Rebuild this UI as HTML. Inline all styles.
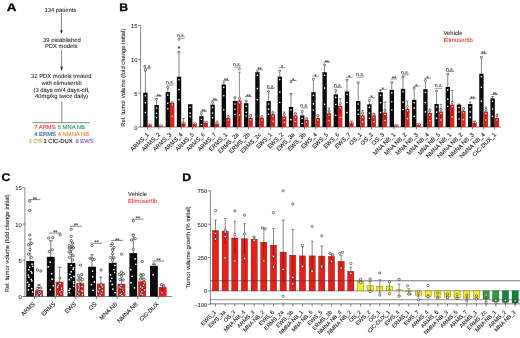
<!DOCTYPE html>
<html lang="en">
<head>
<meta charset="utf-8">
<title>Figure: elimusertib PDX response</title>
<style>
html,body{margin:0;padding:0;background:#fff;}
body{width:520px;height:338px;overflow:hidden;}
svg{display:block;text-rendering:geometricPrecision;filter:blur(0.35px);font-family:"Liberation Sans",Arial,Helvetica,sans-serif;}
</style>
</head>
<body>
<svg width="520" height="338" viewBox="0 0 520 338">
<rect x="0" y="0" width="520" height="338" fill="#ffffff"/>
<text transform="translate(6.7 11.0) scale(1.22 1)" x="0" y="0" font-size="11" font-weight="bold" fill="#0a0a0a" stroke="#0a0a0a" stroke-width="0.3">A</text>
<text transform="translate(119.2 11.0) scale(1.12 1)" x="0" y="0" font-size="11" font-weight="bold" fill="#0a0a0a" stroke="#0a0a0a" stroke-width="0.3">B</text>
<text transform="translate(1.6 181.0) scale(1.12 1)" x="0" y="0" font-size="11" font-weight="bold" fill="#0a0a0a" stroke="#0a0a0a" stroke-width="0.3">C</text>
<text transform="translate(182.3 181.1) scale(1.12 1)" x="0" y="0" font-size="11" font-weight="bold" fill="#0a0a0a" stroke="#0a0a0a" stroke-width="0.3">D</text>
<text x="60.30" y="11.60" font-size="5.85" text-anchor="middle" fill="#222" stroke="#222" stroke-width="0.06" >134 patients</text>
<line x1="61.40" y1="13.00" x2="61.40" y2="31.00" stroke="#222" stroke-width="0.55" />
<polygon points="60.2,30.2 62.6,30.2 61.4,33.9" fill="#222"/>
<text x="61.90" y="41.50" font-size="5.85" text-anchor="middle" fill="#222" stroke="#222" stroke-width="0.06" >39 established</text>
<text x="61.20" y="48.20" font-size="5.85" text-anchor="middle" fill="#222" stroke="#222" stroke-width="0.06" >PDX models</text>
<line x1="61.60" y1="50.20" x2="61.60" y2="67.60" stroke="#222" stroke-width="0.55" />
<polygon points="60.4,66.8 62.8,66.8 61.6,71.2" fill="#222"/>
<text x="61.30" y="78.00" font-size="5.85" text-anchor="middle" fill="#222" stroke="#222" stroke-width="0.06" >32 PDX models treated</text>
<text x="61.60" y="84.70" font-size="5.85" text-anchor="middle" fill="#222" stroke="#222" stroke-width="0.06" >with elimusertib</text>
<text x="61.60" y="91.50" font-size="5.85" text-anchor="middle" fill="#222" stroke="#222" stroke-width="0.06" >(3 days on/4 days-off,</text>
<text x="61.60" y="98.20" font-size="5.85" text-anchor="middle" fill="#222" stroke="#222" stroke-width="0.06" >40mg/kg twice daily)</text>
<line x1="61.80" y1="101.50" x2="61.80" y2="122.70" stroke="#222" stroke-width="0.55" />
<line x1="32.30" y1="122.70" x2="90.00" y2="122.70" stroke="#222" stroke-width="0.55" />
<text x="34.20" y="128.60" font-size="5.85" text-anchor="start" fill="#e8453c" stroke="#e8453c" stroke-width="0.13" >7 ARMS</text>
<text x="57.70" y="128.60" font-size="5.85" text-anchor="start" fill="#2f9e5e" stroke="#2f9e5e" stroke-width="0.13" >5 MNA NB</text>
<text x="34.20" y="135.70" font-size="5.85" text-anchor="start" fill="#2c5fa8" stroke="#2c5fa8" stroke-width="0.13" >4 ERMS</text>
<text x="57.70" y="135.70" font-size="5.85" text-anchor="start" fill="#f08a3c" stroke="#f08a3c" stroke-width="0.13" >4 NMNA NB</text>
<text x="28.50" y="142.90" font-size="5.85" text-anchor="start" fill="#c9a055" stroke="#c9a055" stroke-width="0.13" >3 OS</text>
<text x="43.40" y="142.90" font-size="5.85" text-anchor="start" fill="#222" stroke="#222" stroke-width="0.13" >1 CIC-DUX</text>
<text x="75.40" y="142.90" font-size="5.85" text-anchor="start" fill="#7d55bb" stroke="#7d55bb" stroke-width="0.13" >8 EWS</text>
<line x1="140.60" y1="25.40" x2="140.60" y2="127.30" stroke="#222" stroke-width="0.55" />
<line x1="140.30" y1="127.00" x2="501.00" y2="127.00" stroke="#222" stroke-width="0.55" />
<line x1="138.00" y1="127.00" x2="140.60" y2="127.00" stroke="#222" stroke-width="0.55" />
<text x="137.40" y="129.50" font-size="5.85" text-anchor="end" fill="#222" stroke="#222" stroke-width="0.06" >0</text>
<line x1="138.00" y1="93.13" x2="140.60" y2="93.13" stroke="#222" stroke-width="0.55" />
<text x="137.40" y="95.63" font-size="5.85" text-anchor="end" fill="#222" stroke="#222" stroke-width="0.06" >5</text>
<line x1="138.00" y1="59.27" x2="140.60" y2="59.27" stroke="#222" stroke-width="0.55" />
<text x="137.40" y="61.77" font-size="5.85" text-anchor="end" fill="#222" stroke="#222" stroke-width="0.06" >10</text>
<line x1="138.00" y1="25.40" x2="140.60" y2="25.40" stroke="#222" stroke-width="0.55" />
<text x="137.40" y="27.90" font-size="5.85" text-anchor="end" fill="#222" stroke="#222" stroke-width="0.06" >15</text>
<text x="125.00" y="77.70" font-size="5.85" text-anchor="middle" fill="#222" stroke="#222" stroke-width="0.06" transform="rotate(-90 125.00 77.70)" >Rel. tumor volume (fold change initial)</text>
<text x="443.40" y="34.60" font-size="5.95" text-anchor="start" fill="#222" stroke="#222" stroke-width="0.06" >Vehicle</text>
<text x="443.40" y="42.10" font-size="5.95" text-anchor="start" fill="#e8302a" stroke="#e8302a" stroke-width="0.06" >Elimusertib</text>
<line x1="147.60" y1="127.00" x2="147.60" y2="129.40" stroke="#222" stroke-width="0.55" />
<line x1="145.37" y1="70.00" x2="145.37" y2="92.70" stroke="#222" stroke-width="0.55" />
<line x1="144.07" y1="70.00" x2="146.67" y2="70.00" stroke="#222" stroke-width="0.55" />
<rect x="143.25" y="92.70" width="4.35" height="34.30" fill="#0a0a0a"/>
<rect x="147.60" y="125.20" width="4.35" height="1.80" fill="#e3211c"/>
<circle cx="145.37" cy="70.60" r="1.0" fill="#fff" stroke="#222" stroke-width="0.5"/>
<circle cx="145.37" cy="95.70" r="0.8" fill="#fff"/>
<circle cx="145.37" cy="102.73" r="0.8" fill="#fff"/>
<circle cx="145.37" cy="112.59" r="0.8" fill="#fff"/>
<circle cx="148.93" cy="124.60" r="0.95" fill="#fff" stroke="#5a1010" stroke-width="0.5"/>
<circle cx="150.83" cy="124.80" r="0.95" fill="#fff" stroke="#5a1010" stroke-width="0.5"/>
<line x1="144.20" y1="68.80" x2="151.00" y2="68.80" stroke="#222" stroke-width="0.5" />
<text x="147.60" y="67.90" font-size="5.0" text-anchor="middle" fill="#222" stroke="#222" stroke-width="0.06" >n.s.</text>
<text x="149.40" y="135.00" font-size="5.85" text-anchor="end" fill="#222" stroke="#222" stroke-width="0.09" transform="rotate(-45 149.40 135.00)" >ARMS_1</text>
<line x1="158.80" y1="127.00" x2="158.80" y2="129.40" stroke="#222" stroke-width="0.55" />
<line x1="156.57" y1="98.80" x2="156.57" y2="105.00" stroke="#222" stroke-width="0.55" />
<line x1="155.27" y1="98.80" x2="157.87" y2="98.80" stroke="#222" stroke-width="0.55" />
<rect x="154.45" y="105.00" width="4.35" height="22.00" fill="#0a0a0a"/>
<rect x="158.80" y="126.20" width="4.35" height="0.80" fill="#e3211c"/>
<circle cx="156.57" cy="99.40" r="1.0" fill="#fff" stroke="#222" stroke-width="0.5"/>
<circle cx="156.57" cy="108.00" r="0.8" fill="#fff"/>
<circle cx="156.57" cy="113.21" r="0.8" fill="#fff"/>
<circle cx="156.57" cy="117.80" r="0.8" fill="#fff"/>
<circle cx="160.12" cy="125.60" r="0.95" fill="#fff" stroke="#5a1010" stroke-width="0.5"/>
<circle cx="162.03" cy="125.80" r="0.95" fill="#fff" stroke="#5a1010" stroke-width="0.5"/>
<line x1="155.40" y1="96.10" x2="162.20" y2="96.10" stroke="#222" stroke-width="0.5" />
<text x="158.80" y="97.50" font-size="5.4" text-anchor="middle" fill="#222" stroke="#222" stroke-width="0.06" >**</text>
<text x="160.60" y="135.00" font-size="5.85" text-anchor="end" fill="#222" stroke="#222" stroke-width="0.09" transform="rotate(-45 160.60 135.00)" >ARMS_2</text>
<line x1="170.00" y1="127.00" x2="170.00" y2="129.40" stroke="#222" stroke-width="0.55" />
<line x1="167.77" y1="87.00" x2="167.77" y2="92.10" stroke="#222" stroke-width="0.55" />
<line x1="166.47" y1="87.00" x2="169.07" y2="87.00" stroke="#222" stroke-width="0.55" />
<rect x="165.65" y="92.10" width="4.35" height="34.90" fill="#0a0a0a"/>
<rect x="170.00" y="103.00" width="4.35" height="24.00" fill="#e3211c"/>
<line x1="172.23" y1="102.00" x2="172.23" y2="104.00" stroke="#222" stroke-width="0.5" />
<line x1="170.93" y1="102.00" x2="173.53" y2="102.00" stroke="#222" stroke-width="0.5" />
<circle cx="167.77" cy="87.60" r="1.0" fill="#fff" stroke="#222" stroke-width="0.5"/>
<circle cx="167.77" cy="95.10" r="0.8" fill="#fff"/>
<circle cx="167.77" cy="103.28" r="0.8" fill="#fff"/>
<circle cx="167.77" cy="108.75" r="0.8" fill="#fff"/>
<circle cx="172.23" cy="102.80" r="1.1" fill="#fff" stroke="#2a0a0a" stroke-width="0.55"/>
<circle cx="172.23" cy="105.00" r="1.05" fill="#fff" stroke="#3a0a0a" stroke-width="0.5"/>
<circle cx="172.23" cy="116.20" r="1.0" fill="#fff" stroke="#5a0a0a" stroke-width="0.4"/>
<line x1="166.60" y1="85.10" x2="173.40" y2="85.10" stroke="#222" stroke-width="0.5" />
<text x="170.00" y="84.20" font-size="5.0" text-anchor="middle" fill="#222" stroke="#222" stroke-width="0.06" >n.s.</text>
<text x="171.80" y="135.00" font-size="5.85" text-anchor="end" fill="#222" stroke="#222" stroke-width="0.09" transform="rotate(-45 171.80 135.00)" >ARMS_3</text>
<line x1="181.20" y1="127.00" x2="181.20" y2="129.40" stroke="#222" stroke-width="0.55" />
<line x1="178.97" y1="51.70" x2="178.97" y2="76.70" stroke="#222" stroke-width="0.55" />
<line x1="177.67" y1="51.70" x2="180.27" y2="51.70" stroke="#222" stroke-width="0.55" />
<rect x="176.85" y="76.70" width="4.35" height="50.30" fill="#0a0a0a"/>
<rect x="181.20" y="123.50" width="4.35" height="3.50" fill="#e3211c"/>
<line x1="183.43" y1="118.50" x2="183.43" y2="127.00" stroke="#222" stroke-width="0.5" />
<line x1="182.12" y1="118.50" x2="184.73" y2="118.50" stroke="#222" stroke-width="0.5" />
<circle cx="178.97" cy="52.30" r="1.0" fill="#fff" stroke="#222" stroke-width="0.5"/>
<circle cx="178.97" cy="79.70" r="0.8" fill="#fff"/>
<circle cx="178.97" cy="89.67" r="0.8" fill="#fff"/>
<circle cx="178.97" cy="99.82" r="0.8" fill="#fff"/>
<circle cx="182.53" cy="122.90" r="0.95" fill="#fff" stroke="#5a1010" stroke-width="0.5"/>
<circle cx="184.43" cy="123.10" r="0.95" fill="#fff" stroke="#5a1010" stroke-width="0.5"/>
<line x1="177.80" y1="38.20" x2="184.60" y2="38.20" stroke="#222" stroke-width="0.5" />
<text x="181.20" y="37.30" font-size="5.0" text-anchor="middle" fill="#222" stroke="#222" stroke-width="0.06" >n.s.</text>
<text x="183.00" y="135.00" font-size="5.85" text-anchor="end" fill="#222" stroke="#222" stroke-width="0.09" transform="rotate(-45 183.00 135.00)" >ARMS_4</text>
<line x1="192.40" y1="127.00" x2="192.40" y2="129.40" stroke="#222" stroke-width="0.55" />
<rect x="188.05" y="104.20" width="4.35" height="22.80" fill="#0a0a0a"/>
<rect x="192.40" y="124.00" width="4.35" height="3.00" fill="#e3211c"/>
<circle cx="190.17" cy="107.20" r="0.8" fill="#fff"/>
<circle cx="190.17" cy="113.14" r="0.8" fill="#fff"/>
<circle cx="190.17" cy="116.44" r="0.8" fill="#fff"/>
<circle cx="193.72" cy="123.40" r="0.95" fill="#fff" stroke="#5a1010" stroke-width="0.5"/>
<circle cx="195.62" cy="123.60" r="0.95" fill="#fff" stroke="#5a1010" stroke-width="0.5"/>
<text x="194.20" y="135.00" font-size="5.85" text-anchor="end" fill="#222" stroke="#222" stroke-width="0.09" transform="rotate(-45 194.20 135.00)" >ARMS_5</text>
<line x1="203.60" y1="127.00" x2="203.60" y2="129.40" stroke="#222" stroke-width="0.55" />
<line x1="201.37" y1="113.00" x2="201.37" y2="116.20" stroke="#222" stroke-width="0.55" />
<line x1="200.07" y1="113.00" x2="202.67" y2="113.00" stroke="#222" stroke-width="0.55" />
<rect x="199.25" y="116.20" width="4.35" height="10.80" fill="#0a0a0a"/>
<rect x="203.60" y="122.70" width="4.35" height="4.30" fill="#e3211c"/>
<circle cx="201.37" cy="113.60" r="1.0" fill="#fff" stroke="#222" stroke-width="0.5"/>
<circle cx="201.37" cy="119.20" r="0.8" fill="#fff"/>
<circle cx="201.37" cy="124.48" r="0.8" fill="#fff"/>
<circle cx="204.93" cy="122.10" r="0.95" fill="#fff" stroke="#5a1010" stroke-width="0.5"/>
<circle cx="206.83" cy="122.30" r="0.95" fill="#fff" stroke="#5a1010" stroke-width="0.5"/>
<line x1="200.20" y1="111.30" x2="207.00" y2="111.30" stroke="#222" stroke-width="0.5" />
<text x="203.60" y="112.70" font-size="5.4" text-anchor="middle" fill="#222" stroke="#222" stroke-width="0.06" >**</text>
<text x="205.40" y="135.00" font-size="5.85" text-anchor="end" fill="#222" stroke="#222" stroke-width="0.09" transform="rotate(-45 205.40 135.00)" >ARMS_6</text>
<line x1="214.80" y1="127.00" x2="214.80" y2="129.40" stroke="#222" stroke-width="0.55" />
<line x1="212.57" y1="102.00" x2="212.57" y2="104.60" stroke="#222" stroke-width="0.55" />
<line x1="211.27" y1="102.00" x2="213.87" y2="102.00" stroke="#222" stroke-width="0.55" />
<rect x="210.45" y="104.60" width="4.35" height="22.40" fill="#0a0a0a"/>
<rect x="214.80" y="124.00" width="4.35" height="3.00" fill="#e3211c"/>
<line x1="217.03" y1="121.00" x2="217.03" y2="127.00" stroke="#222" stroke-width="0.5" />
<line x1="215.72" y1="121.00" x2="218.33" y2="121.00" stroke="#222" stroke-width="0.5" />
<circle cx="212.57" cy="102.60" r="1.0" fill="#fff" stroke="#222" stroke-width="0.5"/>
<circle cx="212.57" cy="107.60" r="0.8" fill="#fff"/>
<circle cx="212.57" cy="112.98" r="0.8" fill="#fff"/>
<circle cx="212.57" cy="117.69" r="0.8" fill="#fff"/>
<circle cx="216.12" cy="123.40" r="0.95" fill="#fff" stroke="#5a1010" stroke-width="0.5"/>
<circle cx="218.03" cy="123.60" r="0.95" fill="#fff" stroke="#5a1010" stroke-width="0.5"/>
<line x1="211.40" y1="100.40" x2="218.20" y2="100.40" stroke="#222" stroke-width="0.5" />
<text x="214.80" y="101.80" font-size="5.4" text-anchor="middle" fill="#222" stroke="#222" stroke-width="0.06" >**</text>
<text x="216.60" y="135.00" font-size="5.85" text-anchor="end" fill="#222" stroke="#222" stroke-width="0.09" transform="rotate(-45 216.60 135.00)" >ARMS_7</text>
<line x1="226.00" y1="127.00" x2="226.00" y2="129.40" stroke="#222" stroke-width="0.55" />
<line x1="223.77" y1="82.20" x2="223.77" y2="84.40" stroke="#222" stroke-width="0.55" />
<line x1="222.47" y1="82.20" x2="225.07" y2="82.20" stroke="#222" stroke-width="0.55" />
<rect x="221.65" y="84.40" width="4.35" height="42.60" fill="#0a0a0a"/>
<rect x="226.00" y="118.00" width="4.35" height="9.00" fill="#e3211c"/>
<line x1="228.23" y1="116.00" x2="228.23" y2="120.00" stroke="#222" stroke-width="0.5" />
<line x1="226.93" y1="116.00" x2="229.53" y2="116.00" stroke="#222" stroke-width="0.5" />
<circle cx="223.77" cy="87.40" r="0.8" fill="#fff"/>
<circle cx="223.77" cy="95.76" r="0.8" fill="#fff"/>
<circle cx="223.77" cy="109.84" r="0.8" fill="#fff"/>
<circle cx="228.23" cy="116.80" r="1.1" fill="#fff" stroke="#2a0a0a" stroke-width="0.55"/>
<circle cx="228.23" cy="120.00" r="1.05" fill="#fff" stroke="#3a0a0a" stroke-width="0.5"/>
<line x1="222.60" y1="80.70" x2="229.40" y2="80.70" stroke="#222" stroke-width="0.5" />
<text x="226.00" y="82.10" font-size="5.4" text-anchor="middle" fill="#222" stroke="#222" stroke-width="0.06" >**</text>
<text x="227.80" y="135.00" font-size="5.85" text-anchor="end" fill="#222" stroke="#222" stroke-width="0.09" transform="rotate(-45 227.80 135.00)" >ERMS_1</text>
<line x1="237.20" y1="127.00" x2="237.20" y2="129.40" stroke="#222" stroke-width="0.55" />
<line x1="234.97" y1="97.00" x2="234.97" y2="101.00" stroke="#222" stroke-width="0.55" />
<line x1="233.67" y1="97.00" x2="236.27" y2="97.00" stroke="#222" stroke-width="0.55" />
<rect x="232.85" y="101.00" width="4.35" height="26.00" fill="#0a0a0a"/>
<rect x="237.20" y="100.60" width="4.35" height="26.40" fill="#e3211c"/>
<line x1="239.43" y1="72.20" x2="239.43" y2="127.00" stroke="#222" stroke-width="0.5" />
<line x1="238.12" y1="72.20" x2="240.73" y2="72.20" stroke="#222" stroke-width="0.5" />
<circle cx="234.97" cy="97.60" r="1.0" fill="#fff" stroke="#222" stroke-width="0.5"/>
<circle cx="234.97" cy="104.00" r="0.8" fill="#fff"/>
<circle cx="234.97" cy="109.31" r="0.8" fill="#fff"/>
<circle cx="234.97" cy="114.52" r="0.8" fill="#fff"/>
<circle cx="239.43" cy="98.40" r="1.1" fill="#fff" stroke="#2a0a0a" stroke-width="0.55"/>
<circle cx="239.43" cy="102.60" r="1.05" fill="#fff" stroke="#3a0a0a" stroke-width="0.5"/>
<circle cx="239.43" cy="115.12" r="1.0" fill="#fff" stroke="#5a0a0a" stroke-width="0.4"/>
<line x1="233.80" y1="67.00" x2="240.60" y2="67.00" stroke="#222" stroke-width="0.5" />
<text x="237.20" y="66.10" font-size="5.0" text-anchor="middle" fill="#222" stroke="#222" stroke-width="0.06" >n.s.</text>
<text x="239.00" y="135.00" font-size="5.85" text-anchor="end" fill="#222" stroke="#222" stroke-width="0.09" transform="rotate(-45 239.00 135.00)" >ERMS_2a</text>
<line x1="248.40" y1="127.00" x2="248.40" y2="129.40" stroke="#222" stroke-width="0.55" />
<line x1="246.17" y1="100.50" x2="246.17" y2="103.20" stroke="#222" stroke-width="0.55" />
<line x1="244.87" y1="100.50" x2="247.47" y2="100.50" stroke="#222" stroke-width="0.55" />
<rect x="244.05" y="103.20" width="4.35" height="23.80" fill="#0a0a0a"/>
<rect x="248.40" y="118.00" width="4.35" height="9.00" fill="#e3211c"/>
<line x1="250.62" y1="115.00" x2="250.62" y2="121.00" stroke="#222" stroke-width="0.5" />
<line x1="249.32" y1="115.00" x2="251.93" y2="115.00" stroke="#222" stroke-width="0.5" />
<circle cx="246.17" cy="101.10" r="1.0" fill="#fff" stroke="#222" stroke-width="0.5"/>
<circle cx="246.17" cy="106.20" r="0.8" fill="#fff"/>
<circle cx="246.17" cy="112.38" r="0.8" fill="#fff"/>
<circle cx="246.17" cy="116.07" r="0.8" fill="#fff"/>
<circle cx="250.62" cy="115.80" r="1.1" fill="#fff" stroke="#2a0a0a" stroke-width="0.55"/>
<circle cx="250.62" cy="120.00" r="1.05" fill="#fff" stroke="#3a0a0a" stroke-width="0.5"/>
<line x1="245.00" y1="96.50" x2="251.80" y2="96.50" stroke="#222" stroke-width="0.5" />
<text x="248.40" y="97.90" font-size="5.4" text-anchor="middle" fill="#222" stroke="#222" stroke-width="0.06" >**</text>
<text x="250.20" y="135.00" font-size="5.85" text-anchor="end" fill="#222" stroke="#222" stroke-width="0.09" transform="rotate(-45 250.20 135.00)" >ERMS_2b</text>
<line x1="259.60" y1="127.00" x2="259.60" y2="129.40" stroke="#222" stroke-width="0.55" />
<line x1="257.38" y1="71.00" x2="257.38" y2="72.20" stroke="#222" stroke-width="0.55" />
<line x1="256.07" y1="71.00" x2="258.68" y2="71.00" stroke="#222" stroke-width="0.55" />
<rect x="255.25" y="72.20" width="4.35" height="54.80" fill="#0a0a0a"/>
<rect x="259.60" y="118.00" width="4.35" height="9.00" fill="#e3211c"/>
<line x1="261.83" y1="116.00" x2="261.83" y2="120.00" stroke="#222" stroke-width="0.5" />
<line x1="260.53" y1="116.00" x2="263.13" y2="116.00" stroke="#222" stroke-width="0.5" />
<circle cx="257.38" cy="75.20" r="0.8" fill="#fff"/>
<circle cx="257.38" cy="88.64" r="0.8" fill="#fff"/>
<circle cx="257.38" cy="99.67" r="0.8" fill="#fff"/>
<circle cx="261.83" cy="116.80" r="1.1" fill="#fff" stroke="#2a0a0a" stroke-width="0.55"/>
<circle cx="261.83" cy="120.00" r="1.05" fill="#fff" stroke="#3a0a0a" stroke-width="0.5"/>
<line x1="256.20" y1="69.80" x2="263.00" y2="69.80" stroke="#222" stroke-width="0.5" />
<text x="259.60" y="71.20" font-size="5.4" text-anchor="middle" fill="#222" stroke="#222" stroke-width="0.06" >**</text>
<text x="261.40" y="135.00" font-size="5.85" text-anchor="end" fill="#222" stroke="#222" stroke-width="0.09" transform="rotate(-45 261.40 135.00)" >ERMS_2c</text>
<line x1="270.80" y1="127.00" x2="270.80" y2="129.40" stroke="#222" stroke-width="0.55" />
<line x1="268.57" y1="91.00" x2="268.57" y2="101.00" stroke="#222" stroke-width="0.55" />
<line x1="267.27" y1="91.00" x2="269.87" y2="91.00" stroke="#222" stroke-width="0.55" />
<rect x="266.45" y="101.00" width="4.35" height="26.00" fill="#0a0a0a"/>
<rect x="270.80" y="114.30" width="4.35" height="12.70" fill="#e3211c"/>
<line x1="273.02" y1="112.00" x2="273.02" y2="116.60" stroke="#222" stroke-width="0.5" />
<line x1="271.72" y1="112.00" x2="274.32" y2="112.00" stroke="#222" stroke-width="0.5" />
<circle cx="268.57" cy="91.60" r="1.0" fill="#fff" stroke="#222" stroke-width="0.5"/>
<circle cx="268.57" cy="104.00" r="0.8" fill="#fff"/>
<circle cx="268.57" cy="109.14" r="0.8" fill="#fff"/>
<circle cx="268.57" cy="114.27" r="0.8" fill="#fff"/>
<circle cx="273.02" cy="112.80" r="1.1" fill="#fff" stroke="#2a0a0a" stroke-width="0.55"/>
<circle cx="273.02" cy="116.30" r="1.05" fill="#fff" stroke="#3a0a0a" stroke-width="0.5"/>
<circle cx="273.02" cy="121.28" r="1.0" fill="#fff" stroke="#5a0a0a" stroke-width="0.4"/>
<line x1="267.40" y1="88.50" x2="274.20" y2="88.50" stroke="#222" stroke-width="0.5" />
<text x="270.80" y="87.60" font-size="5.0" text-anchor="middle" fill="#222" stroke="#222" stroke-width="0.06" >n.s.</text>
<text x="272.60" y="135.00" font-size="5.85" text-anchor="end" fill="#222" stroke="#222" stroke-width="0.09" transform="rotate(-45 272.60 135.00)" >EWS_1</text>
<line x1="282.00" y1="127.00" x2="282.00" y2="129.40" stroke="#222" stroke-width="0.55" />
<line x1="279.77" y1="70.50" x2="279.77" y2="76.60" stroke="#222" stroke-width="0.55" />
<line x1="278.47" y1="70.50" x2="281.07" y2="70.50" stroke="#222" stroke-width="0.55" />
<rect x="277.65" y="76.60" width="4.35" height="50.40" fill="#0a0a0a"/>
<rect x="282.00" y="116.50" width="4.35" height="10.50" fill="#e3211c"/>
<line x1="284.23" y1="112.00" x2="284.23" y2="121.00" stroke="#222" stroke-width="0.5" />
<line x1="282.93" y1="112.00" x2="285.53" y2="112.00" stroke="#222" stroke-width="0.5" />
<circle cx="279.77" cy="71.10" r="1.0" fill="#fff" stroke="#222" stroke-width="0.5"/>
<circle cx="279.77" cy="79.60" r="0.8" fill="#fff"/>
<circle cx="279.77" cy="92.13" r="0.8" fill="#fff"/>
<circle cx="279.77" cy="102.56" r="0.8" fill="#fff"/>
<circle cx="284.23" cy="114.30" r="1.1" fill="#fff" stroke="#2a0a0a" stroke-width="0.55"/>
<circle cx="284.23" cy="118.50" r="1.05" fill="#fff" stroke="#3a0a0a" stroke-width="0.5"/>
<circle cx="284.23" cy="122.28" r="1.0" fill="#fff" stroke="#5a0a0a" stroke-width="0.4"/>
<line x1="278.60" y1="67.70" x2="285.40" y2="67.70" stroke="#222" stroke-width="0.5" />
<text x="282.00" y="69.10" font-size="5.4" text-anchor="middle" fill="#222" stroke="#222" stroke-width="0.06" >*</text>
<text x="283.80" y="135.00" font-size="5.85" text-anchor="end" fill="#222" stroke="#222" stroke-width="0.09" transform="rotate(-45 283.80 135.00)" >EWS_2</text>
<line x1="293.20" y1="127.00" x2="293.20" y2="129.40" stroke="#222" stroke-width="0.55" />
<line x1="290.97" y1="93.70" x2="290.97" y2="107.00" stroke="#222" stroke-width="0.55" />
<line x1="289.67" y1="93.70" x2="292.27" y2="93.70" stroke="#222" stroke-width="0.55" />
<rect x="288.85" y="107.00" width="4.35" height="20.00" fill="#0a0a0a"/>
<rect x="293.20" y="115.40" width="4.35" height="11.60" fill="#e3211c"/>
<line x1="295.43" y1="113.00" x2="295.43" y2="117.80" stroke="#222" stroke-width="0.5" />
<line x1="294.12" y1="113.00" x2="296.73" y2="113.00" stroke="#222" stroke-width="0.5" />
<circle cx="290.97" cy="94.30" r="1.0" fill="#fff" stroke="#222" stroke-width="0.5"/>
<circle cx="290.97" cy="110.00" r="0.8" fill="#fff"/>
<circle cx="290.97" cy="119.63" r="0.8" fill="#fff"/>
<circle cx="295.43" cy="113.80" r="1.1" fill="#fff" stroke="#2a0a0a" stroke-width="0.55"/>
<circle cx="295.43" cy="117.40" r="1.05" fill="#fff" stroke="#3a0a0a" stroke-width="0.5"/>
<circle cx="295.43" cy="121.78" r="1.0" fill="#fff" stroke="#5a0a0a" stroke-width="0.4"/>
<line x1="289.80" y1="80.50" x2="296.60" y2="80.50" stroke="#222" stroke-width="0.5" />
<text x="293.20" y="81.90" font-size="5.4" text-anchor="middle" fill="#222" stroke="#222" stroke-width="0.06" >*</text>
<text x="295.00" y="135.00" font-size="5.85" text-anchor="end" fill="#222" stroke="#222" stroke-width="0.09" transform="rotate(-45 295.00 135.00)" >EWS_3a</text>
<line x1="304.40" y1="127.00" x2="304.40" y2="129.40" stroke="#222" stroke-width="0.55" />
<line x1="302.17" y1="111.00" x2="302.17" y2="115.40" stroke="#222" stroke-width="0.55" />
<line x1="300.87" y1="111.00" x2="303.47" y2="111.00" stroke="#222" stroke-width="0.55" />
<rect x="300.05" y="115.40" width="4.35" height="11.60" fill="#0a0a0a"/>
<rect x="304.40" y="120.00" width="4.35" height="7.00" fill="#e3211c"/>
<line x1="306.62" y1="118.00" x2="306.62" y2="122.00" stroke="#222" stroke-width="0.5" />
<line x1="305.32" y1="118.00" x2="307.93" y2="118.00" stroke="#222" stroke-width="0.5" />
<circle cx="302.17" cy="111.60" r="1.0" fill="#fff" stroke="#222" stroke-width="0.5"/>
<circle cx="302.17" cy="118.40" r="0.8" fill="#fff"/>
<circle cx="302.17" cy="123.44" r="0.8" fill="#fff"/>
<circle cx="306.62" cy="118.80" r="1.1" fill="#fff" stroke="#2a0a0a" stroke-width="0.55"/>
<circle cx="306.62" cy="122.00" r="1.05" fill="#fff" stroke="#3a0a0a" stroke-width="0.5"/>
<line x1="301.00" y1="107.90" x2="307.80" y2="107.90" stroke="#222" stroke-width="0.5" />
<text x="304.40" y="107.00" font-size="5.0" text-anchor="middle" fill="#222" stroke="#222" stroke-width="0.06" >n.s.</text>
<text x="306.20" y="135.00" font-size="5.85" text-anchor="end" fill="#222" stroke="#222" stroke-width="0.09" transform="rotate(-45 306.20 135.00)" >EWS_3b</text>
<line x1="315.60" y1="127.00" x2="315.60" y2="129.40" stroke="#222" stroke-width="0.55" />
<line x1="313.38" y1="78.80" x2="313.38" y2="92.20" stroke="#222" stroke-width="0.55" />
<line x1="312.07" y1="78.80" x2="314.68" y2="78.80" stroke="#222" stroke-width="0.55" />
<rect x="311.25" y="92.20" width="4.35" height="34.80" fill="#0a0a0a"/>
<rect x="315.60" y="118.00" width="4.35" height="9.00" fill="#e3211c"/>
<line x1="317.83" y1="115.00" x2="317.83" y2="121.00" stroke="#222" stroke-width="0.5" />
<line x1="316.53" y1="115.00" x2="319.13" y2="115.00" stroke="#222" stroke-width="0.5" />
<circle cx="313.38" cy="79.40" r="1.0" fill="#fff" stroke="#222" stroke-width="0.5"/>
<circle cx="313.38" cy="95.20" r="0.8" fill="#fff"/>
<circle cx="313.38" cy="103.91" r="0.8" fill="#fff"/>
<circle cx="313.38" cy="110.00" r="0.8" fill="#fff"/>
<circle cx="317.83" cy="115.80" r="1.1" fill="#fff" stroke="#2a0a0a" stroke-width="0.55"/>
<circle cx="317.83" cy="120.00" r="1.05" fill="#fff" stroke="#3a0a0a" stroke-width="0.5"/>
<line x1="312.20" y1="76.10" x2="319.00" y2="76.10" stroke="#222" stroke-width="0.5" />
<text x="315.60" y="77.50" font-size="5.4" text-anchor="middle" fill="#222" stroke="#222" stroke-width="0.06" >*</text>
<text x="317.40" y="135.00" font-size="5.85" text-anchor="end" fill="#222" stroke="#222" stroke-width="0.09" transform="rotate(-45 317.40 135.00)" >EWS_4</text>
<line x1="326.80" y1="127.00" x2="326.80" y2="129.40" stroke="#222" stroke-width="0.55" />
<line x1="324.57" y1="64.40" x2="324.57" y2="72.20" stroke="#222" stroke-width="0.55" />
<line x1="323.27" y1="64.40" x2="325.87" y2="64.40" stroke="#222" stroke-width="0.55" />
<rect x="322.45" y="72.20" width="4.35" height="54.80" fill="#0a0a0a"/>
<rect x="326.80" y="113.20" width="4.35" height="13.80" fill="#e3211c"/>
<line x1="329.02" y1="108.00" x2="329.02" y2="118.40" stroke="#222" stroke-width="0.5" />
<line x1="327.72" y1="108.00" x2="330.32" y2="108.00" stroke="#222" stroke-width="0.5" />
<circle cx="324.57" cy="65.00" r="1.0" fill="#fff" stroke="#222" stroke-width="0.5"/>
<circle cx="324.57" cy="75.20" r="0.8" fill="#fff"/>
<circle cx="324.57" cy="88.12" r="0.8" fill="#fff"/>
<circle cx="324.57" cy="104.21" r="0.8" fill="#fff"/>
<circle cx="329.02" cy="111.00" r="1.1" fill="#fff" stroke="#2a0a0a" stroke-width="0.55"/>
<circle cx="329.02" cy="115.20" r="1.05" fill="#fff" stroke="#3a0a0a" stroke-width="0.5"/>
<circle cx="329.02" cy="120.79" r="1.0" fill="#fff" stroke="#5a0a0a" stroke-width="0.4"/>
<line x1="323.40" y1="62.10" x2="330.20" y2="62.10" stroke="#222" stroke-width="0.5" />
<text x="326.80" y="63.50" font-size="5.4" text-anchor="middle" fill="#222" stroke="#222" stroke-width="0.06" >**</text>
<text x="328.60" y="135.00" font-size="5.85" text-anchor="end" fill="#222" stroke="#222" stroke-width="0.09" transform="rotate(-45 328.60 135.00)" >EWS_5</text>
<line x1="338.00" y1="127.00" x2="338.00" y2="129.40" stroke="#222" stroke-width="0.55" />
<line x1="335.77" y1="90.00" x2="335.77" y2="94.40" stroke="#222" stroke-width="0.55" />
<line x1="334.47" y1="90.00" x2="337.07" y2="90.00" stroke="#222" stroke-width="0.55" />
<rect x="333.65" y="94.40" width="4.35" height="32.60" fill="#0a0a0a"/>
<rect x="338.00" y="105.90" width="4.35" height="21.10" fill="#e3211c"/>
<line x1="340.23" y1="98.80" x2="340.23" y2="113.00" stroke="#222" stroke-width="0.5" />
<line x1="338.93" y1="98.80" x2="341.53" y2="98.80" stroke="#222" stroke-width="0.5" />
<circle cx="335.77" cy="90.60" r="1.0" fill="#fff" stroke="#222" stroke-width="0.5"/>
<circle cx="335.77" cy="97.40" r="0.8" fill="#fff"/>
<circle cx="335.77" cy="104.45" r="0.8" fill="#fff"/>
<circle cx="335.77" cy="115.22" r="0.8" fill="#fff"/>
<circle cx="340.23" cy="103.70" r="1.1" fill="#fff" stroke="#2a0a0a" stroke-width="0.55"/>
<circle cx="340.23" cy="107.90" r="1.05" fill="#fff" stroke="#3a0a0a" stroke-width="0.5"/>
<circle cx="340.23" cy="117.51" r="1.0" fill="#fff" stroke="#5a0a0a" stroke-width="0.4"/>
<line x1="334.60" y1="87.40" x2="341.40" y2="87.40" stroke="#222" stroke-width="0.5" />
<text x="338.00" y="86.50" font-size="5.0" text-anchor="middle" fill="#222" stroke="#222" stroke-width="0.06" >n.s.</text>
<text x="339.80" y="135.00" font-size="5.85" text-anchor="end" fill="#222" stroke="#222" stroke-width="0.09" transform="rotate(-45 339.80 135.00)" >EWS_6</text>
<line x1="349.20" y1="127.00" x2="349.20" y2="129.40" stroke="#222" stroke-width="0.55" />
<line x1="346.97" y1="79.50" x2="346.97" y2="91.50" stroke="#222" stroke-width="0.55" />
<line x1="345.67" y1="79.50" x2="348.27" y2="79.50" stroke="#222" stroke-width="0.55" />
<rect x="344.85" y="91.50" width="4.35" height="35.50" fill="#0a0a0a"/>
<rect x="349.20" y="123.20" width="4.35" height="3.80" fill="#e3211c"/>
<line x1="351.43" y1="121.00" x2="351.43" y2="125.40" stroke="#222" stroke-width="0.5" />
<line x1="350.12" y1="121.00" x2="352.73" y2="121.00" stroke="#222" stroke-width="0.5" />
<circle cx="346.97" cy="80.10" r="1.0" fill="#fff" stroke="#222" stroke-width="0.5"/>
<circle cx="346.97" cy="94.50" r="0.8" fill="#fff"/>
<circle cx="346.97" cy="102.56" r="0.8" fill="#fff"/>
<circle cx="346.97" cy="112.60" r="0.8" fill="#fff"/>
<circle cx="350.53" cy="122.60" r="0.95" fill="#fff" stroke="#5a1010" stroke-width="0.5"/>
<circle cx="352.43" cy="122.80" r="0.95" fill="#fff" stroke="#5a1010" stroke-width="0.5"/>
<line x1="345.80" y1="77.20" x2="352.60" y2="77.20" stroke="#222" stroke-width="0.5" />
<text x="349.20" y="78.60" font-size="5.4" text-anchor="middle" fill="#222" stroke="#222" stroke-width="0.06" >*</text>
<text x="351.00" y="135.00" font-size="5.85" text-anchor="end" fill="#222" stroke="#222" stroke-width="0.09" transform="rotate(-45 351.00 135.00)" >EWS_7</text>
<line x1="360.40" y1="127.00" x2="360.40" y2="129.40" stroke="#222" stroke-width="0.55" />
<line x1="358.17" y1="82.20" x2="358.17" y2="101.00" stroke="#222" stroke-width="0.55" />
<line x1="356.87" y1="82.20" x2="359.47" y2="82.20" stroke="#222" stroke-width="0.55" />
<rect x="356.05" y="101.00" width="4.35" height="26.00" fill="#0a0a0a"/>
<rect x="360.40" y="115.40" width="4.35" height="11.60" fill="#e3211c"/>
<line x1="362.62" y1="110.50" x2="362.62" y2="120.30" stroke="#222" stroke-width="0.5" />
<line x1="361.32" y1="110.50" x2="363.93" y2="110.50" stroke="#222" stroke-width="0.5" />
<circle cx="358.17" cy="82.80" r="1.0" fill="#fff" stroke="#222" stroke-width="0.5"/>
<circle cx="358.17" cy="104.00" r="0.8" fill="#fff"/>
<circle cx="358.17" cy="110.05" r="0.8" fill="#fff"/>
<circle cx="358.17" cy="114.18" r="0.8" fill="#fff"/>
<circle cx="362.62" cy="113.20" r="1.1" fill="#fff" stroke="#2a0a0a" stroke-width="0.55"/>
<circle cx="362.62" cy="117.40" r="1.05" fill="#fff" stroke="#3a0a0a" stroke-width="0.5"/>
<circle cx="362.62" cy="121.78" r="1.0" fill="#fff" stroke="#5a0a0a" stroke-width="0.4"/>
<line x1="357.00" y1="77.10" x2="363.80" y2="77.10" stroke="#222" stroke-width="0.5" />
<text x="360.40" y="76.20" font-size="5.0" text-anchor="middle" fill="#222" stroke="#222" stroke-width="0.06" >n.s.</text>
<text x="362.20" y="135.00" font-size="5.85" text-anchor="end" fill="#222" stroke="#222" stroke-width="0.09" transform="rotate(-45 362.20 135.00)" >OS_1</text>
<line x1="371.60" y1="127.00" x2="371.60" y2="129.40" stroke="#222" stroke-width="0.55" />
<line x1="369.38" y1="100.00" x2="369.38" y2="104.30" stroke="#222" stroke-width="0.55" />
<line x1="368.07" y1="100.00" x2="370.68" y2="100.00" stroke="#222" stroke-width="0.55" />
<rect x="367.25" y="104.30" width="4.35" height="22.70" fill="#0a0a0a"/>
<rect x="371.60" y="115.40" width="4.35" height="11.60" fill="#e3211c"/>
<line x1="373.83" y1="113.50" x2="373.83" y2="117.30" stroke="#222" stroke-width="0.5" />
<line x1="372.53" y1="113.50" x2="375.13" y2="113.50" stroke="#222" stroke-width="0.5" />
<circle cx="369.38" cy="100.60" r="1.0" fill="#fff" stroke="#222" stroke-width="0.5"/>
<circle cx="369.38" cy="107.30" r="0.8" fill="#fff"/>
<circle cx="369.38" cy="113.10" r="0.8" fill="#fff"/>
<circle cx="369.38" cy="118.19" r="0.8" fill="#fff"/>
<circle cx="373.83" cy="114.30" r="1.1" fill="#fff" stroke="#2a0a0a" stroke-width="0.55"/>
<circle cx="373.83" cy="117.40" r="1.05" fill="#fff" stroke="#3a0a0a" stroke-width="0.5"/>
<circle cx="373.83" cy="121.78" r="1.0" fill="#fff" stroke="#5a0a0a" stroke-width="0.4"/>
<line x1="368.20" y1="97.70" x2="375.00" y2="97.70" stroke="#222" stroke-width="0.5" />
<text x="371.60" y="99.10" font-size="5.4" text-anchor="middle" fill="#222" stroke="#222" stroke-width="0.06" >*</text>
<text x="373.40" y="135.00" font-size="5.85" text-anchor="end" fill="#222" stroke="#222" stroke-width="0.09" transform="rotate(-45 373.40 135.00)" >OS_2</text>
<line x1="382.80" y1="127.00" x2="382.80" y2="129.40" stroke="#222" stroke-width="0.55" />
<line x1="380.57" y1="90.50" x2="380.57" y2="92.20" stroke="#222" stroke-width="0.55" />
<line x1="379.27" y1="90.50" x2="381.87" y2="90.50" stroke="#222" stroke-width="0.55" />
<rect x="378.45" y="92.20" width="4.35" height="34.80" fill="#0a0a0a"/>
<rect x="382.80" y="112.50" width="4.35" height="14.50" fill="#e3211c"/>
<line x1="385.02" y1="102.00" x2="385.02" y2="123.00" stroke="#222" stroke-width="0.5" />
<line x1="383.72" y1="102.00" x2="386.32" y2="102.00" stroke="#222" stroke-width="0.5" />
<circle cx="380.57" cy="95.20" r="0.8" fill="#fff"/>
<circle cx="380.57" cy="102.80" r="0.8" fill="#fff"/>
<circle cx="380.57" cy="112.59" r="0.8" fill="#fff"/>
<circle cx="385.02" cy="110.30" r="1.1" fill="#fff" stroke="#2a0a0a" stroke-width="0.55"/>
<circle cx="385.02" cy="114.50" r="1.05" fill="#fff" stroke="#3a0a0a" stroke-width="0.5"/>
<circle cx="385.02" cy="120.47" r="1.0" fill="#fff" stroke="#5a0a0a" stroke-width="0.4"/>
<line x1="379.40" y1="89.40" x2="386.20" y2="89.40" stroke="#222" stroke-width="0.5" />
<text x="382.80" y="90.80" font-size="5.4" text-anchor="middle" fill="#222" stroke="#222" stroke-width="0.06" >*</text>
<text x="384.60" y="135.00" font-size="5.85" text-anchor="end" fill="#222" stroke="#222" stroke-width="0.09" transform="rotate(-45 384.60 135.00)" >OS_3</text>
<line x1="394.00" y1="127.00" x2="394.00" y2="129.40" stroke="#222" stroke-width="0.55" />
<line x1="391.77" y1="82.00" x2="391.77" y2="89.90" stroke="#222" stroke-width="0.55" />
<line x1="390.47" y1="82.00" x2="393.07" y2="82.00" stroke="#222" stroke-width="0.55" />
<rect x="389.65" y="89.90" width="4.35" height="37.10" fill="#0a0a0a"/>
<rect x="394.00" y="125.80" width="4.35" height="1.20" fill="#e3211c"/>
<circle cx="391.77" cy="82.60" r="1.0" fill="#fff" stroke="#222" stroke-width="0.5"/>
<circle cx="391.77" cy="92.90" r="0.8" fill="#fff"/>
<circle cx="391.77" cy="101.82" r="0.8" fill="#fff"/>
<circle cx="391.77" cy="109.98" r="0.8" fill="#fff"/>
<circle cx="395.33" cy="125.20" r="0.95" fill="#fff" stroke="#5a1010" stroke-width="0.5"/>
<circle cx="397.23" cy="125.40" r="0.95" fill="#fff" stroke="#5a1010" stroke-width="0.5"/>
<line x1="390.60" y1="78.90" x2="397.40" y2="78.90" stroke="#222" stroke-width="0.5" />
<text x="394.00" y="80.30" font-size="5.4" text-anchor="middle" fill="#222" stroke="#222" stroke-width="0.06" >**</text>
<text x="395.80" y="135.00" font-size="5.85" text-anchor="end" fill="#222" stroke="#222" stroke-width="0.09" transform="rotate(-45 395.80 135.00)" >MNA NB_1</text>
<line x1="405.20" y1="127.00" x2="405.20" y2="129.40" stroke="#222" stroke-width="0.55" />
<line x1="402.97" y1="76.60" x2="402.97" y2="88.80" stroke="#222" stroke-width="0.55" />
<line x1="401.67" y1="76.60" x2="404.27" y2="76.60" stroke="#222" stroke-width="0.55" />
<rect x="400.85" y="88.80" width="4.35" height="38.20" fill="#0a0a0a"/>
<rect x="405.20" y="108.80" width="4.35" height="18.20" fill="#e3211c"/>
<line x1="407.42" y1="101.00" x2="407.42" y2="116.60" stroke="#222" stroke-width="0.5" />
<line x1="406.12" y1="101.00" x2="408.72" y2="101.00" stroke="#222" stroke-width="0.5" />
<circle cx="402.97" cy="77.20" r="1.0" fill="#fff" stroke="#222" stroke-width="0.5"/>
<circle cx="402.97" cy="91.80" r="0.8" fill="#fff"/>
<circle cx="402.97" cy="102.13" r="0.8" fill="#fff"/>
<circle cx="402.97" cy="109.50" r="0.8" fill="#fff"/>
<circle cx="407.42" cy="106.60" r="1.1" fill="#fff" stroke="#2a0a0a" stroke-width="0.55"/>
<circle cx="407.42" cy="110.80" r="1.05" fill="#fff" stroke="#3a0a0a" stroke-width="0.5"/>
<circle cx="407.42" cy="118.81" r="1.0" fill="#fff" stroke="#5a0a0a" stroke-width="0.4"/>
<line x1="401.80" y1="74.90" x2="408.60" y2="74.90" stroke="#222" stroke-width="0.5" />
<text x="405.20" y="74.00" font-size="5.0" text-anchor="middle" fill="#222" stroke="#222" stroke-width="0.06" >n.s.</text>
<text x="407.00" y="135.00" font-size="5.85" text-anchor="end" fill="#222" stroke="#222" stroke-width="0.09" transform="rotate(-45 407.00 135.00)" >MNA NB_2</text>
<line x1="416.40" y1="127.00" x2="416.40" y2="129.40" stroke="#222" stroke-width="0.55" />
<line x1="414.17" y1="87.80" x2="414.17" y2="99.80" stroke="#222" stroke-width="0.55" />
<line x1="412.87" y1="87.80" x2="415.47" y2="87.80" stroke="#222" stroke-width="0.55" />
<rect x="412.05" y="99.80" width="4.35" height="27.20" fill="#0a0a0a"/>
<rect x="416.40" y="124.80" width="4.35" height="2.20" fill="#e3211c"/>
<circle cx="414.17" cy="88.40" r="1.0" fill="#fff" stroke="#222" stroke-width="0.5"/>
<circle cx="414.17" cy="102.80" r="0.8" fill="#fff"/>
<circle cx="414.17" cy="108.17" r="0.8" fill="#fff"/>
<circle cx="414.17" cy="116.42" r="0.8" fill="#fff"/>
<circle cx="417.73" cy="124.20" r="0.95" fill="#fff" stroke="#5a1010" stroke-width="0.5"/>
<circle cx="419.62" cy="124.40" r="0.95" fill="#fff" stroke="#5a1010" stroke-width="0.5"/>
<line x1="413.00" y1="86.10" x2="419.80" y2="86.10" stroke="#222" stroke-width="0.5" />
<text x="416.40" y="87.50" font-size="5.4" text-anchor="middle" fill="#222" stroke="#222" stroke-width="0.06" >*</text>
<text x="418.20" y="135.00" font-size="5.85" text-anchor="end" fill="#222" stroke="#222" stroke-width="0.09" transform="rotate(-45 418.20 135.00)" >MNA NB_3</text>
<line x1="427.60" y1="127.00" x2="427.60" y2="129.40" stroke="#222" stroke-width="0.55" />
<line x1="425.38" y1="80.00" x2="425.38" y2="89.20" stroke="#222" stroke-width="0.55" />
<line x1="424.07" y1="80.00" x2="426.68" y2="80.00" stroke="#222" stroke-width="0.55" />
<rect x="423.25" y="89.20" width="4.35" height="37.80" fill="#0a0a0a"/>
<rect x="427.60" y="113.00" width="4.35" height="14.00" fill="#e3211c"/>
<line x1="429.83" y1="109.00" x2="429.83" y2="117.00" stroke="#222" stroke-width="0.5" />
<line x1="428.53" y1="109.00" x2="431.13" y2="109.00" stroke="#222" stroke-width="0.5" />
<circle cx="425.38" cy="80.60" r="1.0" fill="#fff" stroke="#222" stroke-width="0.5"/>
<circle cx="425.38" cy="92.20" r="0.8" fill="#fff"/>
<circle cx="425.38" cy="102.57" r="0.8" fill="#fff"/>
<circle cx="425.38" cy="111.88" r="0.8" fill="#fff"/>
<circle cx="429.83" cy="110.80" r="1.1" fill="#fff" stroke="#2a0a0a" stroke-width="0.55"/>
<circle cx="429.83" cy="115.00" r="1.05" fill="#fff" stroke="#3a0a0a" stroke-width="0.5"/>
<circle cx="429.83" cy="120.70" r="1.0" fill="#fff" stroke="#5a0a0a" stroke-width="0.4"/>
<line x1="424.20" y1="78.20" x2="431.00" y2="78.20" stroke="#222" stroke-width="0.5" />
<text x="427.60" y="79.60" font-size="5.4" text-anchor="middle" fill="#222" stroke="#222" stroke-width="0.06" >*</text>
<text x="429.40" y="135.00" font-size="5.85" text-anchor="end" fill="#222" stroke="#222" stroke-width="0.09" transform="rotate(-45 429.40 135.00)" >MNA NB_4</text>
<line x1="438.80" y1="127.00" x2="438.80" y2="129.40" stroke="#222" stroke-width="0.55" />
<line x1="436.57" y1="90.50" x2="436.57" y2="104.00" stroke="#222" stroke-width="0.55" />
<line x1="435.27" y1="90.50" x2="437.87" y2="90.50" stroke="#222" stroke-width="0.55" />
<rect x="434.45" y="104.00" width="4.35" height="23.00" fill="#0a0a0a"/>
<rect x="438.80" y="111.60" width="4.35" height="15.40" fill="#e3211c"/>
<line x1="441.02" y1="104.60" x2="441.02" y2="118.60" stroke="#222" stroke-width="0.5" />
<line x1="439.72" y1="104.60" x2="442.32" y2="104.60" stroke="#222" stroke-width="0.5" />
<circle cx="436.57" cy="91.10" r="1.0" fill="#fff" stroke="#222" stroke-width="0.5"/>
<circle cx="436.57" cy="107.00" r="0.8" fill="#fff"/>
<circle cx="436.57" cy="112.16" r="0.8" fill="#fff"/>
<circle cx="436.57" cy="118.39" r="0.8" fill="#fff"/>
<circle cx="441.02" cy="109.40" r="1.1" fill="#fff" stroke="#2a0a0a" stroke-width="0.55"/>
<circle cx="441.02" cy="113.60" r="1.05" fill="#fff" stroke="#3a0a0a" stroke-width="0.5"/>
<circle cx="441.02" cy="120.07" r="1.0" fill="#fff" stroke="#5a0a0a" stroke-width="0.4"/>
<line x1="435.40" y1="88.30" x2="442.20" y2="88.30" stroke="#222" stroke-width="0.5" />
<text x="438.80" y="87.40" font-size="5.0" text-anchor="middle" fill="#222" stroke="#222" stroke-width="0.06" >n.s.</text>
<text x="440.60" y="135.00" font-size="5.85" text-anchor="end" fill="#222" stroke="#222" stroke-width="0.09" transform="rotate(-45 440.60 135.00)" >MNA NB_5</text>
<line x1="450.00" y1="127.00" x2="450.00" y2="129.40" stroke="#222" stroke-width="0.55" />
<line x1="447.77" y1="73.70" x2="447.77" y2="86.90" stroke="#222" stroke-width="0.55" />
<line x1="446.47" y1="73.70" x2="449.07" y2="73.70" stroke="#222" stroke-width="0.55" />
<rect x="445.65" y="86.90" width="4.35" height="40.10" fill="#0a0a0a"/>
<rect x="450.00" y="104.60" width="4.35" height="22.40" fill="#e3211c"/>
<line x1="452.23" y1="90.50" x2="452.23" y2="118.70" stroke="#222" stroke-width="0.5" />
<line x1="450.93" y1="90.50" x2="453.53" y2="90.50" stroke="#222" stroke-width="0.5" />
<circle cx="447.77" cy="74.30" r="1.0" fill="#fff" stroke="#222" stroke-width="0.5"/>
<circle cx="447.77" cy="89.90" r="0.8" fill="#fff"/>
<circle cx="447.77" cy="99.15" r="0.8" fill="#fff"/>
<circle cx="447.77" cy="106.45" r="0.8" fill="#fff"/>
<circle cx="452.23" cy="102.40" r="1.1" fill="#fff" stroke="#2a0a0a" stroke-width="0.55"/>
<circle cx="452.23" cy="106.60" r="1.05" fill="#fff" stroke="#3a0a0a" stroke-width="0.5"/>
<circle cx="452.23" cy="116.92" r="1.0" fill="#fff" stroke="#5a0a0a" stroke-width="0.4"/>
<line x1="446.60" y1="71.50" x2="453.40" y2="71.50" stroke="#222" stroke-width="0.5" />
<text x="450.00" y="70.60" font-size="5.0" text-anchor="middle" fill="#222" stroke="#222" stroke-width="0.06" >n.s.</text>
<text x="451.80" y="135.00" font-size="5.85" text-anchor="end" fill="#222" stroke="#222" stroke-width="0.09" transform="rotate(-45 451.80 135.00)" >NMNA NB_1</text>
<line x1="461.20" y1="127.00" x2="461.20" y2="129.40" stroke="#222" stroke-width="0.55" />
<line x1="458.97" y1="104.00" x2="458.97" y2="104.60" stroke="#222" stroke-width="0.55" />
<line x1="457.67" y1="104.00" x2="460.27" y2="104.00" stroke="#222" stroke-width="0.55" />
<rect x="456.85" y="104.60" width="4.35" height="22.40" fill="#0a0a0a"/>
<rect x="461.20" y="110.80" width="4.35" height="16.20" fill="#e3211c"/>
<line x1="463.42" y1="108.00" x2="463.42" y2="113.60" stroke="#222" stroke-width="0.5" />
<line x1="462.12" y1="108.00" x2="464.72" y2="108.00" stroke="#222" stroke-width="0.5" />
<circle cx="458.97" cy="107.60" r="0.8" fill="#fff"/>
<circle cx="458.97" cy="112.02" r="0.8" fill="#fff"/>
<circle cx="458.97" cy="119.06" r="0.8" fill="#fff"/>
<circle cx="463.42" cy="108.80" r="1.1" fill="#fff" stroke="#2a0a0a" stroke-width="0.55"/>
<circle cx="463.42" cy="112.80" r="1.05" fill="#fff" stroke="#3a0a0a" stroke-width="0.5"/>
<circle cx="463.42" cy="119.71" r="1.0" fill="#fff" stroke="#5a0a0a" stroke-width="0.4"/>
<text x="463.00" y="135.00" font-size="5.85" text-anchor="end" fill="#222" stroke="#222" stroke-width="0.09" transform="rotate(-45 463.00 135.00)" >NMNA NB_2</text>
<line x1="472.40" y1="127.00" x2="472.40" y2="129.40" stroke="#222" stroke-width="0.55" />
<line x1="470.17" y1="102.00" x2="470.17" y2="104.00" stroke="#222" stroke-width="0.55" />
<line x1="468.87" y1="102.00" x2="471.47" y2="102.00" stroke="#222" stroke-width="0.55" />
<rect x="468.05" y="104.00" width="4.35" height="23.00" fill="#0a0a0a"/>
<rect x="472.40" y="122.90" width="4.35" height="4.10" fill="#e3211c"/>
<line x1="474.62" y1="121.00" x2="474.62" y2="124.80" stroke="#222" stroke-width="0.5" />
<line x1="473.32" y1="121.00" x2="475.93" y2="121.00" stroke="#222" stroke-width="0.5" />
<circle cx="470.17" cy="107.00" r="0.8" fill="#fff"/>
<circle cx="470.17" cy="111.90" r="0.8" fill="#fff"/>
<circle cx="470.17" cy="117.34" r="0.8" fill="#fff"/>
<circle cx="473.73" cy="122.30" r="0.95" fill="#fff" stroke="#5a1010" stroke-width="0.5"/>
<circle cx="475.62" cy="122.50" r="0.95" fill="#fff" stroke="#5a1010" stroke-width="0.5"/>
<line x1="469.00" y1="98.70" x2="475.80" y2="98.70" stroke="#222" stroke-width="0.5" />
<text x="472.40" y="100.10" font-size="5.4" text-anchor="middle" fill="#222" stroke="#222" stroke-width="0.06" >**</text>
<text x="474.20" y="135.00" font-size="5.85" text-anchor="end" fill="#222" stroke="#222" stroke-width="0.09" transform="rotate(-45 474.20 135.00)" >NMNA NB_3</text>
<line x1="483.60" y1="127.00" x2="483.60" y2="129.40" stroke="#222" stroke-width="0.55" />
<line x1="481.38" y1="56.90" x2="481.38" y2="73.70" stroke="#222" stroke-width="0.55" />
<line x1="480.07" y1="56.90" x2="482.68" y2="56.90" stroke="#222" stroke-width="0.55" />
<rect x="479.25" y="73.70" width="4.35" height="53.30" fill="#0a0a0a"/>
<rect x="483.60" y="111.60" width="4.35" height="15.40" fill="#e3211c"/>
<line x1="485.83" y1="107.00" x2="485.83" y2="116.20" stroke="#222" stroke-width="0.5" />
<line x1="484.53" y1="107.00" x2="487.13" y2="107.00" stroke="#222" stroke-width="0.5" />
<circle cx="481.38" cy="57.50" r="1.0" fill="#fff" stroke="#222" stroke-width="0.5"/>
<circle cx="481.38" cy="76.70" r="0.8" fill="#fff"/>
<circle cx="481.38" cy="87.31" r="0.8" fill="#fff"/>
<circle cx="481.38" cy="101.17" r="0.8" fill="#fff"/>
<circle cx="485.83" cy="109.40" r="1.1" fill="#fff" stroke="#2a0a0a" stroke-width="0.55"/>
<circle cx="485.83" cy="113.60" r="1.05" fill="#fff" stroke="#3a0a0a" stroke-width="0.5"/>
<circle cx="485.83" cy="120.07" r="1.0" fill="#fff" stroke="#5a0a0a" stroke-width="0.4"/>
<line x1="480.20" y1="53.70" x2="487.00" y2="53.70" stroke="#222" stroke-width="0.5" />
<text x="483.60" y="55.10" font-size="5.4" text-anchor="middle" fill="#222" stroke="#222" stroke-width="0.06" >**</text>
<text x="485.40" y="135.00" font-size="5.85" text-anchor="end" fill="#222" stroke="#222" stroke-width="0.09" transform="rotate(-45 485.40 135.00)" >NMNA NB_4</text>
<line x1="494.80" y1="127.00" x2="494.80" y2="129.40" stroke="#222" stroke-width="0.55" />
<line x1="492.57" y1="96.50" x2="492.57" y2="98.40" stroke="#222" stroke-width="0.55" />
<line x1="491.27" y1="96.50" x2="493.87" y2="96.50" stroke="#222" stroke-width="0.55" />
<rect x="490.45" y="98.40" width="4.35" height="28.60" fill="#0a0a0a"/>
<rect x="494.80" y="118.00" width="4.35" height="9.00" fill="#e3211c"/>
<line x1="497.02" y1="114.00" x2="497.02" y2="122.00" stroke="#222" stroke-width="0.5" />
<line x1="495.72" y1="114.00" x2="498.32" y2="114.00" stroke="#222" stroke-width="0.5" />
<circle cx="492.57" cy="101.40" r="0.8" fill="#fff"/>
<circle cx="492.57" cy="108.99" r="0.8" fill="#fff"/>
<circle cx="492.57" cy="116.28" r="0.8" fill="#fff"/>
<circle cx="497.02" cy="115.80" r="1.1" fill="#fff" stroke="#2a0a0a" stroke-width="0.55"/>
<circle cx="497.02" cy="120.00" r="1.05" fill="#fff" stroke="#3a0a0a" stroke-width="0.5"/>
<line x1="491.40" y1="94.50" x2="498.20" y2="94.50" stroke="#222" stroke-width="0.5" />
<text x="494.80" y="95.90" font-size="5.4" text-anchor="middle" fill="#222" stroke="#222" stroke-width="0.06" >**</text>
<text x="496.60" y="135.00" font-size="5.85" text-anchor="end" fill="#222" stroke="#222" stroke-width="0.09" transform="rotate(-45 496.60 135.00)" >CIC-DUX_1</text>
<circle cx="145.42" cy="69.50" r="1.0" fill="#fff" stroke="#222" stroke-width="0.5"/>
<circle cx="179.02" cy="47.50" r="0.9" fill="#555" stroke="#333" stroke-width="0.5"/>
<circle cx="179.02" cy="39.40" r="1.0" fill="#fff" stroke="#222" stroke-width="0.5"/>
<circle cx="239.38" cy="69.20" r="1.0" fill="#fff" stroke="#222" stroke-width="0.5"/>
<circle cx="291.02" cy="82.00" r="1.0" fill="#fff" stroke="#222" stroke-width="0.5"/>
<line x1="24.90" y1="187.80" x2="24.90" y2="296.80" stroke="#222" stroke-width="0.55" />
<line x1="24.60" y1="296.50" x2="172.20" y2="296.50" stroke="#222" stroke-width="0.55" />
<line x1="22.30" y1="296.50" x2="24.90" y2="296.50" stroke="#222" stroke-width="0.55" />
<text x="21.70" y="299.00" font-size="5.85" text-anchor="end" fill="#222" stroke="#222" stroke-width="0.06" >0</text>
<line x1="22.30" y1="260.27" x2="24.90" y2="260.27" stroke="#222" stroke-width="0.55" />
<text x="21.70" y="262.77" font-size="5.85" text-anchor="end" fill="#222" stroke="#222" stroke-width="0.06" >5</text>
<line x1="22.30" y1="224.03" x2="24.90" y2="224.03" stroke="#222" stroke-width="0.55" />
<text x="21.70" y="226.53" font-size="5.85" text-anchor="end" fill="#222" stroke="#222" stroke-width="0.06" >10</text>
<line x1="22.30" y1="187.80" x2="24.90" y2="187.80" stroke="#222" stroke-width="0.55" />
<text x="21.70" y="190.30" font-size="5.85" text-anchor="end" fill="#222" stroke="#222" stroke-width="0.06" >15</text>
<text x="9.40" y="243.30" font-size="5.85" text-anchor="middle" fill="#222" stroke="#222" stroke-width="0.06" transform="rotate(-90 9.40 243.30)" >Rel. tumor volume (fold change initial)</text>
<text x="128.00" y="195.80" font-size="5.95" text-anchor="start" fill="#222" stroke="#222" stroke-width="0.06" >Vehicle</text>
<text x="128.00" y="203.40" font-size="5.95" text-anchor="start" fill="#e8302a" stroke="#e8302a" stroke-width="0.06" >Elimusertib</text>
<line x1="34.55" y1="296.50" x2="34.55" y2="299.00" stroke="#222" stroke-width="0.55" />
<line x1="30.15" y1="239.00" x2="30.15" y2="261.00" stroke="#222" stroke-width="0.6" />
<line x1="28.25" y1="239.00" x2="32.05" y2="239.00" stroke="#222" stroke-width="0.6" />
<rect x="26.25" y="261.00" width="7.80" height="35.50" fill="#0a0a0a"/>
<rect x="35.05" y="290.20" width="7.80" height="6.30" fill="#e3211c"/>
<line x1="38.95" y1="284.60" x2="38.95" y2="295.80" stroke="#222" stroke-width="0.55" />
<line x1="37.05" y1="284.60" x2="40.85" y2="284.60" stroke="#222" stroke-width="0.55" />
<circle cx="32.05" cy="264.18" r="0.85" fill="#fff"/>
<circle cx="32.65" cy="266.23" r="0.85" fill="#fff"/>
<circle cx="29.59" cy="267.18" r="0.85" fill="#fff"/>
<circle cx="28.79" cy="269.66" r="0.85" fill="#fff"/>
<circle cx="31.03" cy="271.49" r="0.85" fill="#fff"/>
<circle cx="31.81" cy="272.89" r="0.85" fill="#fff"/>
<circle cx="28.29" cy="274.99" r="0.85" fill="#fff"/>
<circle cx="28.85" cy="277.12" r="0.85" fill="#fff"/>
<circle cx="31.31" cy="279.44" r="0.85" fill="#fff"/>
<circle cx="31.87" cy="280.80" r="0.85" fill="#fff"/>
<circle cx="27.59" cy="282.32" r="0.85" fill="#fff"/>
<circle cx="29.13" cy="284.66" r="0.85" fill="#fff"/>
<circle cx="28.59" cy="286.13" r="0.85" fill="#fff"/>
<circle cx="31.82" cy="288.59" r="0.85" fill="#fff"/>
<circle cx="28.48" cy="289.96" r="0.85" fill="#fff"/>
<circle cx="32.64" cy="291.95" r="0.85" fill="#fff"/>
<circle cx="29.65" cy="201.30" r="1.15" fill="#fff" stroke="#1a1a1a" stroke-width="0.6"/>
<circle cx="29.65" cy="210.40" r="1.15" fill="#fff" stroke="#1a1a1a" stroke-width="0.6"/>
<circle cx="29.75" cy="235.00" r="1.15" fill="#fff" stroke="#1a1a1a" stroke-width="0.6"/>
<circle cx="28.45" cy="244.70" r="1.15" fill="#fff" stroke="#1a1a1a" stroke-width="0.6"/>
<circle cx="31.65" cy="243.40" r="1.15" fill="#fff" stroke="#1a1a1a" stroke-width="0.6"/>
<circle cx="28.45" cy="254.00" r="1.15" fill="#fff" stroke="#1a1a1a" stroke-width="0.6"/>
<circle cx="31.35" cy="257.40" r="1.15" fill="#fff" stroke="#1a1a1a" stroke-width="0.6"/>
<circle cx="29.85" cy="249.50" r="1.15" fill="#fff" stroke="#1a1a1a" stroke-width="0.6"/>
<circle cx="39.43" cy="291.68" r="1.1" fill="#fff" stroke="#2a0808" stroke-width="0.5"/>
<circle cx="40.25" cy="292.14" r="1.1" fill="#fff" stroke="#2a0808" stroke-width="0.5"/>
<circle cx="38.51" cy="292.41" r="1.1" fill="#fff" stroke="#2a0808" stroke-width="0.5"/>
<circle cx="40.25" cy="292.82" r="1.1" fill="#fff" stroke="#2a0808" stroke-width="0.5"/>
<circle cx="38.28" cy="293.31" r="1.1" fill="#fff" stroke="#2a0808" stroke-width="0.5"/>
<circle cx="39.49" cy="293.77" r="1.1" fill="#fff" stroke="#2a0808" stroke-width="0.5"/>
<circle cx="37.01" cy="294.07" r="1.1" fill="#fff" stroke="#2a0808" stroke-width="0.5"/>
<circle cx="37.15" cy="294.41" r="1.1" fill="#fff" stroke="#2a0808" stroke-width="0.5"/>
<circle cx="41.24" cy="294.80" r="1.1" fill="#fff" stroke="#2a0808" stroke-width="0.5"/>
<circle cx="37.53" cy="295.23" r="1.1" fill="#fff" stroke="#2a0808" stroke-width="0.5"/>
<circle cx="40.61" cy="295.73" r="1.1" fill="#fff" stroke="#2a0808" stroke-width="0.5"/>
<circle cx="36.90" cy="296.09" r="1.1" fill="#fff" stroke="#2a0808" stroke-width="0.5"/>
<circle cx="37.35" cy="270.00" r="1.15" fill="#fff" stroke="#1a1a1a" stroke-width="0.6"/>
<circle cx="40.85" cy="271.00" r="1.15" fill="#fff" stroke="#1a1a1a" stroke-width="0.6"/>
<circle cx="39.15" cy="286.50" r="1.15" fill="#fff" stroke="#1a1a1a" stroke-width="0.6"/>
<circle cx="37.15" cy="288.50" r="1.15" fill="#fff" stroke="#1a1a1a" stroke-width="0.6"/>
<circle cx="40.75" cy="288.00" r="1.15" fill="#fff" stroke="#1a1a1a" stroke-width="0.6"/>
<line x1="28.55" y1="199.60" x2="40.35" y2="199.60" stroke="#222" stroke-width="0.55" />
<text x="34.75" y="200.80" font-size="5.4" text-anchor="middle" fill="#222" stroke="#222" stroke-width="0.06" >**</text>
<text x="35.15" y="304.40" font-size="5.85" text-anchor="end" fill="#222" stroke="#222" stroke-width="0.09" transform="rotate(-45 35.15 304.40)" >ARMS</text>
<line x1="55.18" y1="296.50" x2="55.18" y2="299.00" stroke="#222" stroke-width="0.55" />
<line x1="50.78" y1="240.70" x2="50.78" y2="256.80" stroke="#222" stroke-width="0.6" />
<line x1="48.88" y1="240.70" x2="52.68" y2="240.70" stroke="#222" stroke-width="0.6" />
<rect x="46.88" y="256.80" width="7.80" height="39.70" fill="#0a0a0a"/>
<rect x="55.68" y="281.70" width="7.80" height="14.80" fill="#e3211c"/>
<line x1="59.58" y1="267.20" x2="59.58" y2="295.90" stroke="#222" stroke-width="0.55" />
<line x1="57.68" y1="267.20" x2="61.48" y2="267.20" stroke="#222" stroke-width="0.55" />
<circle cx="50.10" cy="262.22" r="0.85" fill="#fff"/>
<circle cx="48.20" cy="266.87" r="0.85" fill="#fff"/>
<circle cx="51.60" cy="273.69" r="0.85" fill="#fff"/>
<circle cx="52.05" cy="279.13" r="0.85" fill="#fff"/>
<circle cx="53.27" cy="285.76" r="0.85" fill="#fff"/>
<circle cx="50.33" cy="289.56" r="0.85" fill="#fff"/>
<circle cx="48.68" cy="238.00" r="1.15" fill="#fff" stroke="#1a1a1a" stroke-width="0.6"/>
<circle cx="52.68" cy="237.70" r="1.15" fill="#fff" stroke="#1a1a1a" stroke-width="0.6"/>
<circle cx="49.28" cy="251.40" r="1.15" fill="#fff" stroke="#1a1a1a" stroke-width="0.6"/>
<circle cx="52.38" cy="249.70" r="1.15" fill="#fff" stroke="#1a1a1a" stroke-width="0.6"/>
<circle cx="60.25" cy="283.64" r="1.1" fill="#fff" stroke="#2a0808" stroke-width="0.5"/>
<circle cx="58.28" cy="285.45" r="1.1" fill="#fff" stroke="#2a0808" stroke-width="0.5"/>
<circle cx="57.46" cy="287.14" r="1.1" fill="#fff" stroke="#2a0808" stroke-width="0.5"/>
<circle cx="61.58" cy="288.27" r="1.1" fill="#fff" stroke="#2a0808" stroke-width="0.5"/>
<circle cx="61.82" cy="290.56" r="1.1" fill="#fff" stroke="#2a0808" stroke-width="0.5"/>
<circle cx="59.98" cy="291.91" r="1.1" fill="#fff" stroke="#2a0808" stroke-width="0.5"/>
<circle cx="60.85" cy="294.09" r="1.1" fill="#fff" stroke="#2a0808" stroke-width="0.5"/>
<circle cx="57.71" cy="295.55" r="1.1" fill="#fff" stroke="#2a0808" stroke-width="0.5"/>
<circle cx="60.18" cy="234.80" r="1.15" fill="#fff" stroke="#1a1a1a" stroke-width="0.6"/>
<circle cx="59.88" cy="278.00" r="1.15" fill="#fff" stroke="#1a1a1a" stroke-width="0.6"/>
<line x1="49.18" y1="233.00" x2="60.98" y2="233.00" stroke="#222" stroke-width="0.55" />
<text x="55.38" y="234.20" font-size="5.4" text-anchor="middle" fill="#222" stroke="#222" stroke-width="0.06" >**</text>
<text x="55.78" y="304.40" font-size="5.85" text-anchor="end" fill="#222" stroke="#222" stroke-width="0.09" transform="rotate(-45 55.78 304.40)" >ERMS</text>
<line x1="75.81" y1="296.50" x2="75.81" y2="299.00" stroke="#222" stroke-width="0.55" />
<line x1="71.41" y1="247.50" x2="71.41" y2="262.90" stroke="#222" stroke-width="0.6" />
<line x1="69.51" y1="247.50" x2="73.31" y2="247.50" stroke="#222" stroke-width="0.6" />
<rect x="67.51" y="262.90" width="7.80" height="33.60" fill="#0a0a0a"/>
<rect x="76.31" y="283.20" width="7.80" height="13.30" fill="#e3211c"/>
<line x1="80.21" y1="277.50" x2="80.21" y2="288.90" stroke="#222" stroke-width="0.55" />
<line x1="78.31" y1="277.50" x2="82.11" y2="277.50" stroke="#222" stroke-width="0.55" />
<line x1="78.31" y1="288.90" x2="82.11" y2="288.90" stroke="#222" stroke-width="0.5" />
<circle cx="71.14" cy="265.31" r="0.85" fill="#fff"/>
<circle cx="73.55" cy="267.87" r="0.85" fill="#fff"/>
<circle cx="73.19" cy="269.37" r="0.85" fill="#fff"/>
<circle cx="71.16" cy="271.66" r="0.85" fill="#fff"/>
<circle cx="69.95" cy="274.26" r="0.85" fill="#fff"/>
<circle cx="73.98" cy="276.46" r="0.85" fill="#fff"/>
<circle cx="71.14" cy="277.60" r="0.85" fill="#fff"/>
<circle cx="69.38" cy="279.67" r="0.85" fill="#fff"/>
<circle cx="73.61" cy="281.85" r="0.85" fill="#fff"/>
<circle cx="73.76" cy="283.56" r="0.85" fill="#fff"/>
<circle cx="73.60" cy="286.34" r="0.85" fill="#fff"/>
<circle cx="69.93" cy="288.65" r="0.85" fill="#fff"/>
<circle cx="69.12" cy="290.26" r="0.85" fill="#fff"/>
<circle cx="69.35" cy="292.61" r="0.85" fill="#fff"/>
<circle cx="71.21" cy="229.20" r="1.15" fill="#fff" stroke="#1a1a1a" stroke-width="0.6"/>
<circle cx="71.21" cy="236.30" r="1.15" fill="#fff" stroke="#1a1a1a" stroke-width="0.6"/>
<circle cx="71.21" cy="240.70" r="1.15" fill="#fff" stroke="#1a1a1a" stroke-width="0.6"/>
<circle cx="72.61" cy="243.00" r="1.15" fill="#fff" stroke="#1a1a1a" stroke-width="0.6"/>
<circle cx="69.41" cy="245.50" r="1.15" fill="#fff" stroke="#1a1a1a" stroke-width="0.6"/>
<circle cx="72.01" cy="245.90" r="1.15" fill="#fff" stroke="#1a1a1a" stroke-width="0.6"/>
<circle cx="69.11" cy="248.00" r="1.15" fill="#fff" stroke="#1a1a1a" stroke-width="0.6"/>
<circle cx="73.51" cy="247.80" r="1.15" fill="#fff" stroke="#1a1a1a" stroke-width="0.6"/>
<circle cx="71.11" cy="249.80" r="1.15" fill="#fff" stroke="#1a1a1a" stroke-width="0.6"/>
<circle cx="69.11" cy="251.90" r="1.15" fill="#fff" stroke="#1a1a1a" stroke-width="0.6"/>
<circle cx="73.11" cy="255.60" r="1.15" fill="#fff" stroke="#1a1a1a" stroke-width="0.6"/>
<circle cx="69.41" cy="257.30" r="1.15" fill="#fff" stroke="#1a1a1a" stroke-width="0.6"/>
<circle cx="72.61" cy="260.00" r="1.15" fill="#fff" stroke="#1a1a1a" stroke-width="0.6"/>
<circle cx="70.91" cy="253.50" r="1.15" fill="#fff" stroke="#1a1a1a" stroke-width="0.6"/>
<circle cx="78.92" cy="284.66" r="1.1" fill="#fff" stroke="#2a0808" stroke-width="0.5"/>
<circle cx="79.26" cy="285.79" r="1.1" fill="#fff" stroke="#2a0808" stroke-width="0.5"/>
<circle cx="82.21" cy="286.53" r="1.1" fill="#fff" stroke="#2a0808" stroke-width="0.5"/>
<circle cx="79.44" cy="287.17" r="1.1" fill="#fff" stroke="#2a0808" stroke-width="0.5"/>
<circle cx="78.84" cy="288.10" r="1.1" fill="#fff" stroke="#2a0808" stroke-width="0.5"/>
<circle cx="78.99" cy="289.08" r="1.1" fill="#fff" stroke="#2a0808" stroke-width="0.5"/>
<circle cx="78.42" cy="289.95" r="1.1" fill="#fff" stroke="#2a0808" stroke-width="0.5"/>
<circle cx="81.58" cy="290.71" r="1.1" fill="#fff" stroke="#2a0808" stroke-width="0.5"/>
<circle cx="82.53" cy="291.45" r="1.1" fill="#fff" stroke="#2a0808" stroke-width="0.5"/>
<circle cx="78.08" cy="292.62" r="1.1" fill="#fff" stroke="#2a0808" stroke-width="0.5"/>
<circle cx="79.11" cy="293.08" r="1.1" fill="#fff" stroke="#2a0808" stroke-width="0.5"/>
<circle cx="79.02" cy="294.02" r="1.1" fill="#fff" stroke="#2a0808" stroke-width="0.5"/>
<circle cx="82.21" cy="294.81" r="1.1" fill="#fff" stroke="#2a0808" stroke-width="0.5"/>
<circle cx="77.85" cy="296.00" r="1.1" fill="#fff" stroke="#2a0808" stroke-width="0.5"/>
<circle cx="80.51" cy="265.20" r="1.15" fill="#fff" stroke="#1a1a1a" stroke-width="0.6"/>
<circle cx="78.41" cy="275.50" r="1.15" fill="#fff" stroke="#1a1a1a" stroke-width="0.6"/>
<circle cx="81.71" cy="274.50" r="1.15" fill="#fff" stroke="#1a1a1a" stroke-width="0.6"/>
<circle cx="80.21" cy="278.00" r="1.15" fill="#fff" stroke="#1a1a1a" stroke-width="0.6"/>
<circle cx="78.01" cy="279.80" r="1.15" fill="#fff" stroke="#1a1a1a" stroke-width="0.6"/>
<circle cx="82.41" cy="279.50" r="1.15" fill="#fff" stroke="#1a1a1a" stroke-width="0.6"/>
<circle cx="80.51" cy="281.50" r="1.15" fill="#fff" stroke="#1a1a1a" stroke-width="0.6"/>
<line x1="69.81" y1="226.20" x2="81.61" y2="226.20" stroke="#222" stroke-width="0.55" />
<text x="76.01" y="227.40" font-size="5.4" text-anchor="middle" fill="#222" stroke="#222" stroke-width="0.06" >**</text>
<text x="76.41" y="304.40" font-size="5.85" text-anchor="end" fill="#222" stroke="#222" stroke-width="0.09" transform="rotate(-45 76.41 304.40)" >EWS</text>
<line x1="96.44" y1="296.50" x2="96.44" y2="299.00" stroke="#222" stroke-width="0.55" />
<line x1="92.04" y1="254.80" x2="92.04" y2="266.70" stroke="#222" stroke-width="0.6" />
<line x1="90.14" y1="254.80" x2="93.94" y2="254.80" stroke="#222" stroke-width="0.6" />
<rect x="88.14" y="266.70" width="7.80" height="29.80" fill="#0a0a0a"/>
<rect x="96.94" y="283.50" width="7.80" height="13.00" fill="#e3211c"/>
<line x1="100.84" y1="277.10" x2="100.84" y2="289.90" stroke="#222" stroke-width="0.55" />
<line x1="98.94" y1="277.10" x2="102.74" y2="277.10" stroke="#222" stroke-width="0.55" />
<line x1="98.94" y1="289.90" x2="102.74" y2="289.90" stroke="#222" stroke-width="0.5" />
<circle cx="92.58" cy="271.11" r="0.85" fill="#fff"/>
<circle cx="92.77" cy="276.78" r="0.85" fill="#fff"/>
<circle cx="94.36" cy="281.95" r="0.85" fill="#fff"/>
<circle cx="91.45" cy="284.56" r="0.85" fill="#fff"/>
<circle cx="93.05" cy="290.32" r="0.85" fill="#fff"/>
<circle cx="92.04" cy="245.50" r="1.15" fill="#fff" stroke="#1a1a1a" stroke-width="0.6"/>
<circle cx="90.04" cy="258.20" r="1.15" fill="#fff" stroke="#1a1a1a" stroke-width="0.6"/>
<circle cx="92.34" cy="259.30" r="1.15" fill="#fff" stroke="#1a1a1a" stroke-width="0.6"/>
<circle cx="94.24" cy="259.30" r="1.15" fill="#fff" stroke="#1a1a1a" stroke-width="0.6"/>
<circle cx="101.25" cy="285.16" r="1.1" fill="#fff" stroke="#2a0808" stroke-width="0.5"/>
<circle cx="102.31" cy="286.97" r="1.1" fill="#fff" stroke="#2a0808" stroke-width="0.5"/>
<circle cx="99.76" cy="288.68" r="1.1" fill="#fff" stroke="#2a0808" stroke-width="0.5"/>
<circle cx="102.22" cy="290.40" r="1.1" fill="#fff" stroke="#2a0808" stroke-width="0.5"/>
<circle cx="98.41" cy="291.60" r="1.1" fill="#fff" stroke="#2a0808" stroke-width="0.5"/>
<circle cx="101.67" cy="293.28" r="1.1" fill="#fff" stroke="#2a0808" stroke-width="0.5"/>
<circle cx="100.02" cy="295.71" r="1.1" fill="#fff" stroke="#2a0808" stroke-width="0.5"/>
<circle cx="101.14" cy="270.00" r="1.15" fill="#fff" stroke="#1a1a1a" stroke-width="0.6"/>
<line x1="90.44" y1="243.20" x2="102.24" y2="243.20" stroke="#222" stroke-width="0.55" />
<text x="96.64" y="244.40" font-size="5.4" text-anchor="middle" fill="#222" stroke="#222" stroke-width="0.06" >**</text>
<text x="97.04" y="304.40" font-size="5.85" text-anchor="end" fill="#222" stroke="#222" stroke-width="0.09" transform="rotate(-45 97.04 304.40)" >OS</text>
<line x1="117.07" y1="296.50" x2="117.07" y2="299.00" stroke="#222" stroke-width="0.55" />
<line x1="112.67" y1="249.00" x2="112.67" y2="262.80" stroke="#222" stroke-width="0.6" />
<line x1="110.77" y1="249.00" x2="114.57" y2="249.00" stroke="#222" stroke-width="0.6" />
<rect x="108.77" y="262.80" width="7.80" height="33.70" fill="#0a0a0a"/>
<rect x="117.57" y="283.80" width="7.80" height="12.70" fill="#e3211c"/>
<line x1="121.47" y1="274.60" x2="121.47" y2="293.00" stroke="#222" stroke-width="0.55" />
<line x1="119.57" y1="274.60" x2="123.37" y2="274.60" stroke="#222" stroke-width="0.55" />
<line x1="119.57" y1="293.00" x2="123.37" y2="293.00" stroke="#222" stroke-width="0.5" />
<circle cx="114.91" cy="265.37" r="0.85" fill="#fff"/>
<circle cx="113.84" cy="269.60" r="0.85" fill="#fff"/>
<circle cx="114.55" cy="272.52" r="0.85" fill="#fff"/>
<circle cx="110.55" cy="274.86" r="0.85" fill="#fff"/>
<circle cx="111.82" cy="278.23" r="0.85" fill="#fff"/>
<circle cx="110.55" cy="281.10" r="0.85" fill="#fff"/>
<circle cx="112.31" cy="284.41" r="0.85" fill="#fff"/>
<circle cx="112.90" cy="289.09" r="0.85" fill="#fff"/>
<circle cx="115.09" cy="292.53" r="0.85" fill="#fff"/>
<circle cx="112.37" cy="243.60" r="1.15" fill="#fff" stroke="#1a1a1a" stroke-width="0.6"/>
<circle cx="110.87" cy="245.40" r="1.15" fill="#fff" stroke="#1a1a1a" stroke-width="0.6"/>
<circle cx="114.07" cy="247.50" r="1.15" fill="#fff" stroke="#1a1a1a" stroke-width="0.6"/>
<circle cx="112.67" cy="250.20" r="1.15" fill="#fff" stroke="#1a1a1a" stroke-width="0.6"/>
<circle cx="112.37" cy="253.70" r="1.15" fill="#fff" stroke="#1a1a1a" stroke-width="0.6"/>
<circle cx="110.57" cy="257.50" r="1.15" fill="#fff" stroke="#1a1a1a" stroke-width="0.6"/>
<circle cx="114.17" cy="257.80" r="1.15" fill="#fff" stroke="#1a1a1a" stroke-width="0.6"/>
<circle cx="112.47" cy="260.20" r="1.15" fill="#fff" stroke="#1a1a1a" stroke-width="0.6"/>
<circle cx="121.17" cy="285.42" r="1.1" fill="#fff" stroke="#2a0808" stroke-width="0.5"/>
<circle cx="119.04" cy="287.00" r="1.1" fill="#fff" stroke="#2a0808" stroke-width="0.5"/>
<circle cx="120.81" cy="287.91" r="1.1" fill="#fff" stroke="#2a0808" stroke-width="0.5"/>
<circle cx="122.89" cy="289.19" r="1.1" fill="#fff" stroke="#2a0808" stroke-width="0.5"/>
<circle cx="122.82" cy="290.36" r="1.1" fill="#fff" stroke="#2a0808" stroke-width="0.5"/>
<circle cx="123.52" cy="291.58" r="1.1" fill="#fff" stroke="#2a0808" stroke-width="0.5"/>
<circle cx="121.23" cy="293.43" r="1.1" fill="#fff" stroke="#2a0808" stroke-width="0.5"/>
<circle cx="120.09" cy="294.48" r="1.1" fill="#fff" stroke="#2a0808" stroke-width="0.5"/>
<circle cx="121.91" cy="295.36" r="1.1" fill="#fff" stroke="#2a0808" stroke-width="0.5"/>
<circle cx="121.67" cy="254.20" r="1.15" fill="#fff" stroke="#1a1a1a" stroke-width="0.6"/>
<circle cx="119.37" cy="274.50" r="1.15" fill="#fff" stroke="#1a1a1a" stroke-width="0.6"/>
<circle cx="123.57" cy="273.70" r="1.15" fill="#fff" stroke="#1a1a1a" stroke-width="0.6"/>
<circle cx="121.47" cy="272.00" r="1.15" fill="#fff" stroke="#1a1a1a" stroke-width="0.6"/>
<circle cx="121.47" cy="276.30" r="1.15" fill="#fff" stroke="#1a1a1a" stroke-width="0.6"/>
<circle cx="119.97" cy="279.50" r="1.15" fill="#fff" stroke="#1a1a1a" stroke-width="0.6"/>
<circle cx="123.17" cy="280.00" r="1.15" fill="#fff" stroke="#1a1a1a" stroke-width="0.6"/>
<line x1="111.07" y1="240.40" x2="122.87" y2="240.40" stroke="#222" stroke-width="0.55" />
<text x="117.27" y="241.60" font-size="5.4" text-anchor="middle" fill="#222" stroke="#222" stroke-width="0.06" >**</text>
<text x="117.67" y="304.40" font-size="5.85" text-anchor="end" fill="#222" stroke="#222" stroke-width="0.09" transform="rotate(-45 117.67 304.40)" >MNA NB</text>
<line x1="137.70" y1="296.50" x2="137.70" y2="299.00" stroke="#222" stroke-width="0.55" />
<line x1="133.30" y1="234.20" x2="133.30" y2="253.10" stroke="#222" stroke-width="0.6" />
<line x1="131.40" y1="234.20" x2="135.20" y2="234.20" stroke="#222" stroke-width="0.6" />
<rect x="129.40" y="253.10" width="7.80" height="43.40" fill="#0a0a0a"/>
<rect x="138.20" y="281.30" width="7.80" height="15.20" fill="#e3211c"/>
<line x1="142.10" y1="274.00" x2="142.10" y2="288.60" stroke="#222" stroke-width="0.55" />
<line x1="140.20" y1="274.00" x2="144.00" y2="274.00" stroke="#222" stroke-width="0.55" />
<line x1="140.20" y1="288.60" x2="144.00" y2="288.60" stroke="#222" stroke-width="0.5" />
<circle cx="135.08" cy="258.88" r="0.85" fill="#fff"/>
<circle cx="135.83" cy="264.24" r="0.85" fill="#fff"/>
<circle cx="130.74" cy="269.72" r="0.85" fill="#fff"/>
<circle cx="132.13" cy="276.26" r="0.85" fill="#fff"/>
<circle cx="131.09" cy="282.67" r="0.85" fill="#fff"/>
<circle cx="134.53" cy="287.79" r="0.85" fill="#fff"/>
<circle cx="133.30" cy="220.90" r="1.15" fill="#fff" stroke="#1a1a1a" stroke-width="0.6"/>
<circle cx="133.30" cy="235.60" r="1.15" fill="#fff" stroke="#1a1a1a" stroke-width="0.6"/>
<circle cx="135.20" cy="238.60" r="1.15" fill="#fff" stroke="#1a1a1a" stroke-width="0.6"/>
<circle cx="131.60" cy="240.00" r="1.15" fill="#fff" stroke="#1a1a1a" stroke-width="0.6"/>
<circle cx="133.30" cy="249.30" r="1.15" fill="#fff" stroke="#1a1a1a" stroke-width="0.6"/>
<circle cx="144.30" cy="282.83" r="1.1" fill="#fff" stroke="#2a0808" stroke-width="0.5"/>
<circle cx="143.68" cy="285.17" r="1.1" fill="#fff" stroke="#2a0808" stroke-width="0.5"/>
<circle cx="140.84" cy="286.91" r="1.1" fill="#fff" stroke="#2a0808" stroke-width="0.5"/>
<circle cx="142.31" cy="288.07" r="1.1" fill="#fff" stroke="#2a0808" stroke-width="0.5"/>
<circle cx="144.54" cy="290.00" r="1.1" fill="#fff" stroke="#2a0808" stroke-width="0.5"/>
<circle cx="141.82" cy="291.90" r="1.1" fill="#fff" stroke="#2a0808" stroke-width="0.5"/>
<circle cx="141.08" cy="293.95" r="1.1" fill="#fff" stroke="#2a0808" stroke-width="0.5"/>
<circle cx="142.49" cy="294.76" r="1.1" fill="#fff" stroke="#2a0808" stroke-width="0.5"/>
<circle cx="142.30" cy="261.50" r="1.15" fill="#fff" stroke="#1a1a1a" stroke-width="0.6"/>
<circle cx="140.60" cy="275.40" r="1.15" fill="#fff" stroke="#1a1a1a" stroke-width="0.6"/>
<circle cx="143.40" cy="274.60" r="1.15" fill="#fff" stroke="#1a1a1a" stroke-width="0.6"/>
<circle cx="142.10" cy="277.90" r="1.15" fill="#fff" stroke="#1a1a1a" stroke-width="0.6"/>
<circle cx="140.20" cy="279.00" r="1.15" fill="#fff" stroke="#1a1a1a" stroke-width="0.6"/>
<circle cx="144.10" cy="279.50" r="1.15" fill="#fff" stroke="#1a1a1a" stroke-width="0.6"/>
<line x1="131.70" y1="219.20" x2="143.50" y2="219.20" stroke="#222" stroke-width="0.55" />
<text x="137.90" y="220.40" font-size="5.4" text-anchor="middle" fill="#222" stroke="#222" stroke-width="0.06" >**</text>
<text x="138.30" y="304.40" font-size="5.85" text-anchor="end" fill="#222" stroke="#222" stroke-width="0.09" transform="rotate(-45 138.30 304.40)" >NMNA NB</text>
<line x1="158.33" y1="296.50" x2="158.33" y2="299.00" stroke="#222" stroke-width="0.55" />
<line x1="153.93" y1="264.30" x2="153.93" y2="265.80" stroke="#222" stroke-width="0.6" />
<line x1="152.03" y1="264.30" x2="155.83" y2="264.30" stroke="#222" stroke-width="0.6" />
<rect x="150.03" y="265.80" width="7.80" height="30.70" fill="#0a0a0a"/>
<rect x="158.83" y="287.10" width="7.80" height="9.40" fill="#e3211c"/>
<line x1="162.73" y1="285.00" x2="162.73" y2="289.20" stroke="#222" stroke-width="0.55" />
<line x1="160.83" y1="285.00" x2="164.63" y2="285.00" stroke="#222" stroke-width="0.55" />
<line x1="160.83" y1="289.20" x2="164.63" y2="289.20" stroke="#222" stroke-width="0.5" />
<circle cx="153.13" cy="274.67" r="0.85" fill="#fff"/>
<circle cx="153.93" cy="263.80" r="1.15" fill="#fff" stroke="#1a1a1a" stroke-width="0.6"/>
<circle cx="161.92" cy="292.87" r="1.1" fill="#fff" stroke="#2a0808" stroke-width="0.5"/>
<circle cx="161.53" cy="284.70" r="1.15" fill="#fff" stroke="#1a1a1a" stroke-width="0.6"/>
<circle cx="163.93" cy="285.90" r="1.15" fill="#fff" stroke="#1a1a1a" stroke-width="0.6"/>
<line x1="152.33" y1="261.00" x2="164.13" y2="261.00" stroke="#222" stroke-width="0.55" />
<text x="158.53" y="262.20" font-size="5.4" text-anchor="middle" fill="#222" stroke="#222" stroke-width="0.06" >**</text>
<text x="158.93" y="304.40" font-size="5.85" text-anchor="end" fill="#222" stroke="#222" stroke-width="0.09" transform="rotate(-45 158.93 304.40)" >CIC-DUX</text>
<line x1="210.40" y1="190.80" x2="210.40" y2="304.15" stroke="#222" stroke-width="0.55" />
<line x1="207.70" y1="190.80" x2="210.40" y2="190.80" stroke="#222" stroke-width="0.55" />
<text x="207.20" y="193.30" font-size="5.85" text-anchor="end" fill="#222" stroke="#222" stroke-width="0.06" >750</text>
<line x1="207.70" y1="224.15" x2="210.40" y2="224.15" stroke="#222" stroke-width="0.55" />
<text x="207.20" y="226.65" font-size="5.85" text-anchor="end" fill="#222" stroke="#222" stroke-width="0.06" >500</text>
<line x1="207.70" y1="257.50" x2="210.40" y2="257.50" stroke="#222" stroke-width="0.55" />
<text x="207.20" y="260.00" font-size="5.85" text-anchor="end" fill="#222" stroke="#222" stroke-width="0.06" >250</text>
<line x1="207.70" y1="290.85" x2="210.40" y2="290.85" stroke="#222" stroke-width="0.55" />
<text x="207.20" y="293.35" font-size="5.85" text-anchor="end" fill="#222" stroke="#222" stroke-width="0.06" >0</text>
<line x1="207.70" y1="304.19" x2="210.40" y2="304.19" stroke="#222" stroke-width="0.55" />
<text x="207.20" y="306.69" font-size="5.85" text-anchor="end" fill="#222" stroke="#222" stroke-width="0.06" >-100</text>
<text x="189.90" y="247.30" font-size="5.85" text-anchor="middle" fill="#222" stroke="#222" stroke-width="0.06" transform="rotate(-90 189.90 247.30)" >Tumor volume growth (% initial)</text>
<line x1="210.40" y1="290.85" x2="520.00" y2="290.85" stroke="#555" stroke-width="0.6" />
<line x1="210.10" y1="303.85" x2="520.00" y2="303.85" stroke="#222" stroke-width="0.6" />
<rect x="212.45" y="230.70" width="6.10" height="60.15" fill="#e3221c" stroke="#8a0f0c" stroke-width="0.45"/>
<line x1="215.50" y1="220.10" x2="215.50" y2="230.70" stroke="#2a2a2a" stroke-width="0.55" />
<line x1="215.50" y1="230.70" x2="215.50" y2="241.30" stroke="#5a0808" stroke-width="0.55" />
<line x1="214.00" y1="220.10" x2="217.00" y2="220.10" stroke="#333" stroke-width="0.5" />
<line x1="215.50" y1="303.85" x2="215.50" y2="306.45" stroke="#222" stroke-width="0.55" />
<text x="216.40" y="312.55" font-size="5.55" text-anchor="end" fill="#222" stroke="#222" stroke-width="0.09" transform="rotate(-45 216.40 312.55)" >EWS_1</text>
<rect x="222.11" y="231.20" width="6.10" height="59.65" fill="#e3221c" stroke="#8a0f0c" stroke-width="0.45"/>
<line x1="225.16" y1="218.40" x2="225.16" y2="231.20" stroke="#2a2a2a" stroke-width="0.55" />
<line x1="225.16" y1="231.20" x2="225.16" y2="244.00" stroke="#5a0808" stroke-width="0.55" />
<line x1="223.66" y1="218.40" x2="226.66" y2="218.40" stroke="#333" stroke-width="0.5" />
<line x1="225.16" y1="303.85" x2="225.16" y2="306.45" stroke="#222" stroke-width="0.55" />
<text x="226.06" y="312.55" font-size="5.55" text-anchor="end" fill="#222" stroke="#222" stroke-width="0.09" transform="rotate(-45 226.06 312.55)" >EWS_3a</text>
<rect x="231.78" y="238.00" width="6.10" height="52.85" fill="#e3221c" stroke="#8a0f0c" stroke-width="0.45"/>
<line x1="234.83" y1="221.20" x2="234.83" y2="238.00" stroke="#2a2a2a" stroke-width="0.55" />
<line x1="234.83" y1="238.00" x2="234.83" y2="254.80" stroke="#5a0808" stroke-width="0.55" />
<line x1="233.33" y1="221.20" x2="236.33" y2="221.20" stroke="#333" stroke-width="0.5" />
<line x1="234.83" y1="303.85" x2="234.83" y2="306.45" stroke="#222" stroke-width="0.55" />
<text x="235.73" y="312.55" font-size="5.55" text-anchor="end" fill="#222" stroke="#222" stroke-width="0.09" transform="rotate(-45 235.73 312.55)" >OS_3</text>
<rect x="241.44" y="238.80" width="6.10" height="52.05" fill="#e3221c" stroke="#8a0f0c" stroke-width="0.45"/>
<line x1="244.50" y1="223.70" x2="244.50" y2="238.80" stroke="#2a2a2a" stroke-width="0.55" />
<line x1="244.50" y1="238.80" x2="244.50" y2="253.90" stroke="#5a0808" stroke-width="0.55" />
<line x1="243.00" y1="223.70" x2="246.00" y2="223.70" stroke="#333" stroke-width="0.5" />
<line x1="244.50" y1="303.85" x2="244.50" y2="306.45" stroke="#222" stroke-width="0.55" />
<text x="245.40" y="312.55" font-size="5.55" text-anchor="end" fill="#222" stroke="#222" stroke-width="0.09" transform="rotate(-45 245.40 312.55)" >MNA NB_4</text>
<rect x="251.11" y="239.30" width="6.10" height="51.55" fill="#e3221c" stroke="#8a0f0c" stroke-width="0.45"/>
<line x1="254.16" y1="238.00" x2="254.16" y2="239.30" stroke="#2a2a2a" stroke-width="0.55" />
<line x1="254.16" y1="239.30" x2="254.16" y2="240.60" stroke="#5a0808" stroke-width="0.55" />
<line x1="252.66" y1="238.00" x2="255.66" y2="238.00" stroke="#333" stroke-width="0.5" />
<line x1="254.16" y1="303.85" x2="254.16" y2="306.45" stroke="#222" stroke-width="0.55" />
<text x="255.06" y="312.55" font-size="5.55" text-anchor="end" fill="#222" stroke="#222" stroke-width="0.09" transform="rotate(-45 255.06 312.55)" >ARMS_3</text>
<rect x="260.77" y="242.30" width="6.10" height="48.55" fill="#e3221c" stroke="#8a0f0c" stroke-width="0.45"/>
<line x1="263.82" y1="228.00" x2="263.82" y2="242.30" stroke="#2a2a2a" stroke-width="0.55" />
<line x1="263.82" y1="242.30" x2="263.82" y2="256.60" stroke="#5a0808" stroke-width="0.55" />
<line x1="262.32" y1="228.00" x2="265.32" y2="228.00" stroke="#333" stroke-width="0.5" />
<line x1="263.82" y1="303.85" x2="263.82" y2="306.45" stroke="#222" stroke-width="0.55" />
<text x="264.72" y="312.55" font-size="5.55" text-anchor="end" fill="#222" stroke="#222" stroke-width="0.09" transform="rotate(-45 264.72 312.55)" >MNA NB_2</text>
<rect x="270.44" y="245.20" width="6.10" height="45.65" fill="#e3221c" stroke="#8a0f0c" stroke-width="0.45"/>
<line x1="273.49" y1="228.60" x2="273.49" y2="245.20" stroke="#2a2a2a" stroke-width="0.55" />
<line x1="273.49" y1="245.20" x2="273.49" y2="261.80" stroke="#5a0808" stroke-width="0.55" />
<line x1="271.99" y1="228.60" x2="274.99" y2="228.60" stroke="#333" stroke-width="0.5" />
<line x1="273.49" y1="303.85" x2="273.49" y2="306.45" stroke="#222" stroke-width="0.55" />
<text x="274.39" y="312.55" font-size="5.55" text-anchor="end" fill="#222" stroke="#222" stroke-width="0.09" transform="rotate(-45 274.39 312.55)" >EWS_6</text>
<rect x="280.10" y="252.10" width="6.10" height="38.75" fill="#e3221c" stroke="#8a0f0c" stroke-width="0.45"/>
<line x1="283.15" y1="220.00" x2="283.15" y2="252.10" stroke="#2a2a2a" stroke-width="0.55" />
<line x1="283.15" y1="252.10" x2="283.15" y2="284.20" stroke="#5a0808" stroke-width="0.55" />
<line x1="281.65" y1="220.00" x2="284.65" y2="220.00" stroke="#333" stroke-width="0.5" />
<line x1="283.15" y1="303.85" x2="283.15" y2="306.45" stroke="#222" stroke-width="0.55" />
<text x="284.05" y="312.55" font-size="5.55" text-anchor="end" fill="#222" stroke="#222" stroke-width="0.09" transform="rotate(-45 284.05 312.55)" >ERMS_2a</text>
<rect x="289.77" y="255.30" width="6.10" height="35.55" fill="#e3221c" stroke="#8a0f0c" stroke-width="0.45"/>
<line x1="292.82" y1="229.40" x2="292.82" y2="255.30" stroke="#2a2a2a" stroke-width="0.55" />
<line x1="292.82" y1="255.30" x2="292.82" y2="281.20" stroke="#5a0808" stroke-width="0.55" />
<line x1="291.32" y1="229.40" x2="294.32" y2="229.40" stroke="#333" stroke-width="0.5" />
<line x1="292.82" y1="303.85" x2="292.82" y2="306.45" stroke="#222" stroke-width="0.55" />
<text x="293.72" y="312.55" font-size="5.55" text-anchor="end" fill="#222" stroke="#222" stroke-width="0.09" transform="rotate(-45 293.72 312.55)" >EWS_3b</text>
<rect x="299.44" y="255.90" width="6.10" height="34.95" fill="#e3221c" stroke="#8a0f0c" stroke-width="0.45"/>
<line x1="302.49" y1="246.90" x2="302.49" y2="255.90" stroke="#2a2a2a" stroke-width="0.55" />
<line x1="302.49" y1="255.90" x2="302.49" y2="264.90" stroke="#5a0808" stroke-width="0.55" />
<line x1="300.99" y1="246.90" x2="303.99" y2="246.90" stroke="#333" stroke-width="0.5" />
<line x1="302.49" y1="303.85" x2="302.49" y2="306.45" stroke="#222" stroke-width="0.55" />
<text x="303.38" y="312.55" font-size="5.55" text-anchor="end" fill="#222" stroke="#222" stroke-width="0.09" transform="rotate(-45 303.38 312.55)" >NMNA NB_1</text>
<rect x="309.10" y="255.90" width="6.10" height="34.95" fill="#e3221c" stroke="#8a0f0c" stroke-width="0.45"/>
<line x1="312.15" y1="241.20" x2="312.15" y2="255.90" stroke="#2a2a2a" stroke-width="0.55" />
<line x1="312.15" y1="255.90" x2="312.15" y2="270.60" stroke="#5a0808" stroke-width="0.55" />
<line x1="310.65" y1="241.20" x2="313.65" y2="241.20" stroke="#333" stroke-width="0.5" />
<line x1="312.15" y1="303.85" x2="312.15" y2="306.45" stroke="#222" stroke-width="0.55" />
<text x="313.05" y="312.55" font-size="5.55" text-anchor="end" fill="#222" stroke="#222" stroke-width="0.09" transform="rotate(-45 313.05 312.55)" >MNA NB_5</text>
<rect x="318.76" y="256.10" width="6.10" height="34.75" fill="#e3221c" stroke="#8a0f0c" stroke-width="0.45"/>
<line x1="321.81" y1="245.80" x2="321.81" y2="256.10" stroke="#2a2a2a" stroke-width="0.55" />
<line x1="321.81" y1="256.10" x2="321.81" y2="266.40" stroke="#5a0808" stroke-width="0.55" />
<line x1="320.31" y1="245.80" x2="323.31" y2="245.80" stroke="#333" stroke-width="0.5" />
<line x1="321.81" y1="303.85" x2="321.81" y2="306.45" stroke="#222" stroke-width="0.55" />
<text x="322.71" y="312.55" font-size="5.55" text-anchor="end" fill="#222" stroke="#222" stroke-width="0.09" transform="rotate(-45 322.71 312.55)" >EWS_5</text>
<rect x="328.43" y="256.50" width="6.10" height="34.35" fill="#e3221c" stroke="#8a0f0c" stroke-width="0.45"/>
<line x1="331.48" y1="254.00" x2="331.48" y2="256.50" stroke="#2a2a2a" stroke-width="0.55" />
<line x1="331.48" y1="256.50" x2="331.48" y2="259.00" stroke="#5a0808" stroke-width="0.55" />
<line x1="329.98" y1="254.00" x2="332.98" y2="254.00" stroke="#333" stroke-width="0.5" />
<line x1="331.48" y1="303.85" x2="331.48" y2="306.45" stroke="#222" stroke-width="0.55" />
<text x="332.38" y="312.55" font-size="5.55" text-anchor="end" fill="#222" stroke="#222" stroke-width="0.09" transform="rotate(-45 332.38 312.55)" >ERMS_2b</text>
<rect x="338.09" y="261.40" width="6.10" height="29.45" fill="#e3221c" stroke="#8a0f0c" stroke-width="0.45"/>
<line x1="341.14" y1="255.40" x2="341.14" y2="261.40" stroke="#2a2a2a" stroke-width="0.55" />
<line x1="341.14" y1="261.40" x2="341.14" y2="267.40" stroke="#5a0808" stroke-width="0.55" />
<line x1="339.64" y1="255.40" x2="342.64" y2="255.40" stroke="#333" stroke-width="0.5" />
<line x1="341.14" y1="303.85" x2="341.14" y2="306.45" stroke="#222" stroke-width="0.55" />
<text x="342.04" y="312.55" font-size="5.55" text-anchor="end" fill="#222" stroke="#222" stroke-width="0.09" transform="rotate(-45 342.04 312.55)" >NMNA NB_4</text>
<rect x="347.76" y="271.40" width="6.10" height="19.45" fill="#e3221c" stroke="#8a0f0c" stroke-width="0.45"/>
<line x1="350.81" y1="267.20" x2="350.81" y2="271.40" stroke="#2a2a2a" stroke-width="0.55" />
<line x1="350.81" y1="271.40" x2="350.81" y2="275.60" stroke="#5a0808" stroke-width="0.55" />
<line x1="349.31" y1="267.20" x2="352.31" y2="267.20" stroke="#333" stroke-width="0.5" />
<line x1="350.81" y1="303.85" x2="350.81" y2="306.45" stroke="#222" stroke-width="0.55" />
<text x="351.71" y="312.55" font-size="5.55" text-anchor="end" fill="#222" stroke="#222" stroke-width="0.09" transform="rotate(-45 351.71 312.55)" >NMNA NB_2</text>
<rect x="357.43" y="281.40" width="6.10" height="9.45" fill="#f3ef22" stroke="#77740f" stroke-width="0.45"/>
<line x1="360.48" y1="280.40" x2="360.48" y2="282.40" stroke="#333" stroke-width="0.5" />
<line x1="358.98" y1="280.40" x2="361.98" y2="280.40" stroke="#333" stroke-width="0.5" />
<line x1="358.98" y1="282.40" x2="361.98" y2="282.40" stroke="#333" stroke-width="0.5" />
<line x1="360.48" y1="303.85" x2="360.48" y2="306.45" stroke="#222" stroke-width="0.55" />
<text x="361.38" y="312.55" font-size="5.55" text-anchor="end" fill="#222" stroke="#222" stroke-width="0.09" transform="rotate(-45 361.38 312.55)" >OS_2</text>
<rect x="367.09" y="285.80" width="6.10" height="5.05" fill="#f3ef22" stroke="#77740f" stroke-width="0.45"/>
<line x1="370.14" y1="281.40" x2="370.14" y2="290.20" stroke="#333" stroke-width="0.5" />
<line x1="368.64" y1="281.40" x2="371.64" y2="281.40" stroke="#333" stroke-width="0.5" />
<line x1="368.64" y1="290.20" x2="371.64" y2="290.20" stroke="#333" stroke-width="0.5" />
<line x1="370.14" y1="303.85" x2="370.14" y2="306.45" stroke="#222" stroke-width="0.55" />
<text x="371.04" y="312.55" font-size="5.55" text-anchor="end" fill="#222" stroke="#222" stroke-width="0.09" transform="rotate(-45 371.04 312.55)" >EWS_2</text>
<rect x="376.75" y="286.30" width="6.10" height="4.55" fill="#f3ef22" stroke="#77740f" stroke-width="0.45"/>
<line x1="379.80" y1="279.70" x2="379.80" y2="292.90" stroke="#333" stroke-width="0.5" />
<line x1="378.30" y1="279.70" x2="381.30" y2="279.70" stroke="#333" stroke-width="0.5" />
<line x1="378.30" y1="292.90" x2="381.30" y2="292.90" stroke="#333" stroke-width="0.5" />
<line x1="379.80" y1="303.85" x2="379.80" y2="306.45" stroke="#222" stroke-width="0.55" />
<text x="380.70" y="312.55" font-size="5.55" text-anchor="end" fill="#222" stroke="#222" stroke-width="0.09" transform="rotate(-45 380.70 312.55)" >OS_1</text>
<rect x="386.42" y="286.10" width="6.10" height="4.75" fill="#f3ef22" stroke="#77740f" stroke-width="0.45"/>
<line x1="389.47" y1="282.30" x2="389.47" y2="289.90" stroke="#333" stroke-width="0.5" />
<line x1="387.97" y1="282.30" x2="390.97" y2="282.30" stroke="#333" stroke-width="0.5" />
<line x1="387.97" y1="289.90" x2="390.97" y2="289.90" stroke="#333" stroke-width="0.5" />
<line x1="389.47" y1="303.85" x2="389.47" y2="306.45" stroke="#222" stroke-width="0.55" />
<text x="390.37" y="312.55" font-size="5.55" text-anchor="end" fill="#222" stroke="#222" stroke-width="0.09" transform="rotate(-45 390.37 312.55)" >CIC-DUX_1</text>
<rect x="396.08" y="289.80" width="6.10" height="1.05" fill="#f3ef22" stroke="#77740f" stroke-width="0.45"/>
<line x1="399.13" y1="284.00" x2="399.13" y2="295.60" stroke="#333" stroke-width="0.5" />
<line x1="397.63" y1="284.00" x2="400.63" y2="284.00" stroke="#333" stroke-width="0.5" />
<line x1="397.63" y1="295.60" x2="400.63" y2="295.60" stroke="#333" stroke-width="0.5" />
<line x1="399.13" y1="303.85" x2="399.13" y2="306.45" stroke="#222" stroke-width="0.55" />
<text x="400.03" y="312.55" font-size="5.55" text-anchor="end" fill="#222" stroke="#222" stroke-width="0.09" transform="rotate(-45 400.03 312.55)" >EWS_4</text>
<rect x="405.75" y="290.85" width="6.10" height="0.55" fill="#f3ef22" stroke="#77740f" stroke-width="0.45"/>
<line x1="408.80" y1="288.70" x2="408.80" y2="294.10" stroke="#333" stroke-width="0.5" />
<line x1="407.30" y1="288.70" x2="410.30" y2="288.70" stroke="#333" stroke-width="0.5" />
<line x1="407.30" y1="294.10" x2="410.30" y2="294.10" stroke="#333" stroke-width="0.5" />
<line x1="408.80" y1="303.85" x2="408.80" y2="306.45" stroke="#222" stroke-width="0.55" />
<text x="409.70" y="312.55" font-size="5.55" text-anchor="end" fill="#222" stroke="#222" stroke-width="0.09" transform="rotate(-45 409.70 312.55)" >ERMS_1</text>
<rect x="415.41" y="290.85" width="6.10" height="4.55" fill="#f3ef22" stroke="#77740f" stroke-width="0.45"/>
<line x1="418.46" y1="294.00" x2="418.46" y2="296.80" stroke="#333" stroke-width="0.5" />
<line x1="416.96" y1="294.00" x2="419.96" y2="294.00" stroke="#333" stroke-width="0.5" />
<line x1="416.96" y1="296.80" x2="419.96" y2="296.80" stroke="#333" stroke-width="0.5" />
<line x1="418.46" y1="303.85" x2="418.46" y2="306.45" stroke="#222" stroke-width="0.55" />
<text x="419.36" y="312.55" font-size="5.55" text-anchor="end" fill="#222" stroke="#222" stroke-width="0.09" transform="rotate(-45 419.36 312.55)" >EWS_7</text>
<rect x="425.08" y="290.85" width="6.10" height="5.65" fill="#f3ef22" stroke="#77740f" stroke-width="0.45"/>
<line x1="428.13" y1="295.00" x2="428.13" y2="298.00" stroke="#333" stroke-width="0.5" />
<line x1="426.63" y1="295.00" x2="429.63" y2="295.00" stroke="#333" stroke-width="0.5" />
<line x1="426.63" y1="298.00" x2="429.63" y2="298.00" stroke="#333" stroke-width="0.5" />
<line x1="428.13" y1="303.85" x2="428.13" y2="306.45" stroke="#222" stroke-width="0.55" />
<text x="429.03" y="312.55" font-size="5.55" text-anchor="end" fill="#222" stroke="#222" stroke-width="0.09" transform="rotate(-45 429.03 312.55)" >ARMS_4</text>
<rect x="434.74" y="290.85" width="6.10" height="6.25" fill="#f3ef22" stroke="#77740f" stroke-width="0.45"/>
<line x1="437.79" y1="296.00" x2="437.79" y2="298.20" stroke="#333" stroke-width="0.5" />
<line x1="436.29" y1="296.00" x2="439.29" y2="296.00" stroke="#333" stroke-width="0.5" />
<line x1="436.29" y1="298.20" x2="439.29" y2="298.20" stroke="#333" stroke-width="0.5" />
<line x1="437.79" y1="303.85" x2="437.79" y2="306.45" stroke="#222" stroke-width="0.55" />
<text x="438.69" y="312.55" font-size="5.55" text-anchor="end" fill="#222" stroke="#222" stroke-width="0.09" transform="rotate(-45 438.69 312.55)" >ARMS_6</text>
<rect x="444.41" y="290.85" width="6.10" height="6.25" fill="#f3ef22" stroke="#77740f" stroke-width="0.45"/>
<line x1="447.46" y1="296.00" x2="447.46" y2="298.20" stroke="#333" stroke-width="0.5" />
<line x1="445.96" y1="296.00" x2="448.96" y2="296.00" stroke="#333" stroke-width="0.5" />
<line x1="445.96" y1="298.20" x2="448.96" y2="298.20" stroke="#333" stroke-width="0.5" />
<line x1="447.46" y1="303.85" x2="447.46" y2="306.45" stroke="#222" stroke-width="0.55" />
<text x="448.36" y="312.55" font-size="5.55" text-anchor="end" fill="#222" stroke="#222" stroke-width="0.09" transform="rotate(-45 448.36 312.55)" >NMNA NB_3</text>
<rect x="454.07" y="290.85" width="6.10" height="7.25" fill="#f3ef22" stroke="#77740f" stroke-width="0.45"/>
<line x1="457.12" y1="297.00" x2="457.12" y2="299.20" stroke="#333" stroke-width="0.5" />
<line x1="455.62" y1="297.00" x2="458.62" y2="297.00" stroke="#333" stroke-width="0.5" />
<line x1="455.62" y1="299.20" x2="458.62" y2="299.20" stroke="#333" stroke-width="0.5" />
<line x1="457.12" y1="303.85" x2="457.12" y2="306.45" stroke="#222" stroke-width="0.55" />
<text x="458.02" y="312.55" font-size="5.55" text-anchor="end" fill="#222" stroke="#222" stroke-width="0.09" transform="rotate(-45 458.02 312.55)" >ARMS_5</text>
<rect x="463.74" y="290.85" width="6.10" height="7.25" fill="#f3ef22" stroke="#77740f" stroke-width="0.45"/>
<line x1="466.79" y1="297.00" x2="466.79" y2="299.20" stroke="#333" stroke-width="0.5" />
<line x1="465.29" y1="297.00" x2="468.29" y2="297.00" stroke="#333" stroke-width="0.5" />
<line x1="465.29" y1="299.20" x2="468.29" y2="299.20" stroke="#333" stroke-width="0.5" />
<line x1="466.79" y1="303.85" x2="466.79" y2="306.45" stroke="#222" stroke-width="0.55" />
<text x="467.69" y="312.55" font-size="5.55" text-anchor="end" fill="#222" stroke="#222" stroke-width="0.09" transform="rotate(-45 467.69 312.55)" >ARMS_7</text>
<rect x="473.40" y="290.85" width="6.10" height="7.85" fill="#f3ef22" stroke="#77740f" stroke-width="0.45"/>
<line x1="476.45" y1="298.00" x2="476.45" y2="299.40" stroke="#333" stroke-width="0.5" />
<line x1="474.95" y1="298.00" x2="477.95" y2="298.00" stroke="#333" stroke-width="0.5" />
<line x1="474.95" y1="299.40" x2="477.95" y2="299.40" stroke="#333" stroke-width="0.5" />
<line x1="476.45" y1="303.85" x2="476.45" y2="306.45" stroke="#222" stroke-width="0.55" />
<text x="477.35" y="312.55" font-size="5.55" text-anchor="end" fill="#222" stroke="#222" stroke-width="0.09" transform="rotate(-45 477.35 312.55)" >ARMS_1</text>
<rect x="483.07" y="290.85" width="6.10" height="8.15" fill="#3aa040" stroke="#0a5a24" stroke-width="0.45"/>
<line x1="486.12" y1="298.00" x2="486.12" y2="300.00" stroke="#333" stroke-width="0.5" />
<line x1="484.62" y1="298.00" x2="487.62" y2="298.00" stroke="#333" stroke-width="0.5" />
<line x1="484.62" y1="300.00" x2="487.62" y2="300.00" stroke="#333" stroke-width="0.5" />
<line x1="486.12" y1="303.85" x2="486.12" y2="306.45" stroke="#222" stroke-width="0.55" />
<text x="487.02" y="312.55" font-size="5.55" text-anchor="end" fill="#222" stroke="#222" stroke-width="0.09" transform="rotate(-45 487.02 312.55)" >ERMS_2c</text>
<rect x="492.73" y="290.85" width="6.10" height="10.65" fill="#2f9a3c" stroke="#0a5a24" stroke-width="0.45"/>
<line x1="495.78" y1="300.50" x2="495.78" y2="302.50" stroke="#333" stroke-width="0.5" />
<line x1="494.28" y1="300.50" x2="497.28" y2="300.50" stroke="#333" stroke-width="0.5" />
<line x1="494.28" y1="302.50" x2="497.28" y2="302.50" stroke="#333" stroke-width="0.5" />
<line x1="495.78" y1="303.85" x2="495.78" y2="306.45" stroke="#222" stroke-width="0.55" />
<text x="496.68" y="312.55" font-size="5.55" text-anchor="end" fill="#222" stroke="#222" stroke-width="0.09" transform="rotate(-45 496.68 312.55)" >MNA NB_1</text>
<rect x="502.40" y="290.85" width="6.10" height="11.45" fill="#108a3c" stroke="#0a5a24" stroke-width="0.45"/>
<line x1="505.45" y1="301.50" x2="505.45" y2="303.10" stroke="#333" stroke-width="0.5" />
<line x1="503.95" y1="301.50" x2="506.95" y2="301.50" stroke="#333" stroke-width="0.5" />
<line x1="503.95" y1="303.10" x2="506.95" y2="303.10" stroke="#333" stroke-width="0.5" />
<line x1="505.45" y1="303.85" x2="505.45" y2="306.45" stroke="#222" stroke-width="0.55" />
<text x="506.35" y="312.55" font-size="5.55" text-anchor="end" fill="#222" stroke="#222" stroke-width="0.09" transform="rotate(-45 506.35 312.55)" >ARMS_2</text>
<rect x="512.07" y="290.85" width="6.10" height="12.05" fill="#0b8238" stroke="#0a5a24" stroke-width="0.45"/>
<line x1="515.12" y1="302.00" x2="515.12" y2="303.80" stroke="#333" stroke-width="0.5" />
<line x1="513.62" y1="302.00" x2="516.62" y2="302.00" stroke="#333" stroke-width="0.5" />
<line x1="513.62" y1="303.80" x2="516.62" y2="303.80" stroke="#333" stroke-width="0.5" />
<line x1="515.12" y1="303.85" x2="515.12" y2="306.45" stroke="#222" stroke-width="0.55" />
<text x="516.01" y="312.55" font-size="5.55" text-anchor="end" fill="#222" stroke="#222" stroke-width="0.09" transform="rotate(-45 516.01 312.55)" >MNA NB_3</text>
<line x1="210.40" y1="280.80" x2="520.00" y2="280.80" stroke="#3a3a3a" stroke-width="0.7" />
<line x1="210.40" y1="299.70" x2="520.00" y2="299.70" stroke="#4a4a4a" stroke-width="0.6" />
<circle cx="215.50" cy="210.60" r="1.15" fill="#fff" stroke="#1a1a1a" stroke-width="0.55"/>
<circle cx="215.50" cy="233.50" r="1.15" fill="#fff" stroke="#1a1a1a" stroke-width="0.55"/>
<circle cx="215.50" cy="239.00" r="1.15" fill="#fff" stroke="#1a1a1a" stroke-width="0.55"/>
<circle cx="225.16" cy="230.20" r="1.15" fill="#fff" stroke="#1a1a1a" stroke-width="0.55"/>
<circle cx="225.16" cy="232.00" r="1.15" fill="#fff" stroke="#1a1a1a" stroke-width="0.55"/>
<circle cx="225.16" cy="236.50" r="1.15" fill="#fff" stroke="#1a1a1a" stroke-width="0.55"/>
<circle cx="225.16" cy="258.00" r="1.15" fill="#fff" stroke="#1a1a1a" stroke-width="0.55"/>
<circle cx="234.83" cy="210.90" r="1.15" fill="#fff" stroke="#1a1a1a" stroke-width="0.55"/>
<circle cx="234.83" cy="234.50" r="1.15" fill="#fff" stroke="#1a1a1a" stroke-width="0.55"/>
<circle cx="234.83" cy="261.00" r="1.15" fill="#fff" stroke="#1a1a1a" stroke-width="0.55"/>
<circle cx="244.50" cy="215.20" r="1.15" fill="#fff" stroke="#1a1a1a" stroke-width="0.55"/>
<circle cx="244.50" cy="234.00" r="1.15" fill="#fff" stroke="#1a1a1a" stroke-width="0.55"/>
<circle cx="244.50" cy="258.50" r="1.15" fill="#fff" stroke="#1a1a1a" stroke-width="0.55"/>
<circle cx="254.16" cy="237.00" r="1.15" fill="#fff" stroke="#1a1a1a" stroke-width="0.55"/>
<circle cx="254.16" cy="240.50" r="1.15" fill="#fff" stroke="#1a1a1a" stroke-width="0.55"/>
<circle cx="262.43" cy="227.80" r="1.15" fill="#fff" stroke="#1a1a1a" stroke-width="0.55"/>
<circle cx="265.22" cy="228.90" r="1.15" fill="#fff" stroke="#1a1a1a" stroke-width="0.55"/>
<circle cx="263.82" cy="261.00" r="1.15" fill="#fff" stroke="#1a1a1a" stroke-width="0.55"/>
<circle cx="273.49" cy="212.60" r="1.15" fill="#fff" stroke="#1a1a1a" stroke-width="0.55"/>
<circle cx="273.49" cy="256.50" r="1.15" fill="#fff" stroke="#1a1a1a" stroke-width="0.55"/>
<circle cx="273.49" cy="267.00" r="1.15" fill="#fff" stroke="#1a1a1a" stroke-width="0.55"/>
<circle cx="283.15" cy="190.80" r="1.15" fill="#fff" stroke="#1a1a1a" stroke-width="0.55"/>
<circle cx="283.15" cy="269.50" r="1.15" fill="#fff" stroke="#1a1a1a" stroke-width="0.55"/>
<circle cx="283.15" cy="296.40" r="1.15" fill="#fff" stroke="#1a1a1a" stroke-width="0.55"/>
<circle cx="292.82" cy="203.90" r="1.15" fill="#fff" stroke="#1a1a1a" stroke-width="0.55"/>
<circle cx="292.82" cy="277.50" r="1.15" fill="#fff" stroke="#1a1a1a" stroke-width="0.55"/>
<circle cx="292.82" cy="284.00" r="1.15" fill="#fff" stroke="#1a1a1a" stroke-width="0.55"/>
<circle cx="302.49" cy="245.30" r="1.15" fill="#fff" stroke="#1a1a1a" stroke-width="0.55"/>
<circle cx="302.49" cy="266.50" r="1.15" fill="#fff" stroke="#1a1a1a" stroke-width="0.55"/>
<circle cx="312.15" cy="226.40" r="1.15" fill="#fff" stroke="#1a1a1a" stroke-width="0.55"/>
<circle cx="312.15" cy="270.50" r="1.15" fill="#fff" stroke="#1a1a1a" stroke-width="0.55"/>
<circle cx="312.15" cy="271.50" r="1.15" fill="#fff" stroke="#1a1a1a" stroke-width="0.55"/>
<circle cx="321.81" cy="235.80" r="1.15" fill="#fff" stroke="#1a1a1a" stroke-width="0.55"/>
<circle cx="321.81" cy="266.00" r="1.15" fill="#fff" stroke="#1a1a1a" stroke-width="0.55"/>
<circle cx="321.81" cy="267.00" r="1.15" fill="#fff" stroke="#1a1a1a" stroke-width="0.55"/>
<circle cx="330.08" cy="253.30" r="1.15" fill="#fff" stroke="#1a1a1a" stroke-width="0.55"/>
<circle cx="332.88" cy="254.80" r="1.15" fill="#fff" stroke="#1a1a1a" stroke-width="0.55"/>
<circle cx="331.48" cy="261.50" r="1.15" fill="#fff" stroke="#1a1a1a" stroke-width="0.55"/>
<circle cx="339.75" cy="253.30" r="1.15" fill="#fff" stroke="#1a1a1a" stroke-width="0.55"/>
<circle cx="342.54" cy="252.30" r="1.15" fill="#fff" stroke="#1a1a1a" stroke-width="0.55"/>
<circle cx="341.14" cy="268.00" r="1.15" fill="#fff" stroke="#1a1a1a" stroke-width="0.55"/>
<circle cx="350.81" cy="263.50" r="1.15" fill="#fff" stroke="#1a1a1a" stroke-width="0.55"/>
<circle cx="350.81" cy="273.50" r="1.15" fill="#fff" stroke="#1a1a1a" stroke-width="0.55"/>
<circle cx="360.48" cy="279.40" r="1.15" fill="#fff" stroke="#1a1a1a" stroke-width="0.55"/>
<circle cx="360.48" cy="282.50" r="1.15" fill="#fff" stroke="#1a1a1a" stroke-width="0.55"/>
<circle cx="370.14" cy="278.90" r="1.15" fill="#fff" stroke="#1a1a1a" stroke-width="0.55"/>
<circle cx="370.14" cy="291.60" r="1.15" fill="#fff" stroke="#1a1a1a" stroke-width="0.55"/>
<circle cx="379.80" cy="273.00" r="1.15" fill="#fff" stroke="#1a1a1a" stroke-width="0.55"/>
<circle cx="379.80" cy="295.00" r="1.15" fill="#fff" stroke="#1a1a1a" stroke-width="0.55"/>
<circle cx="389.47" cy="281.80" r="1.15" fill="#fff" stroke="#1a1a1a" stroke-width="0.55"/>
<circle cx="389.47" cy="293.60" r="1.15" fill="#fff" stroke="#1a1a1a" stroke-width="0.55"/>
<circle cx="399.13" cy="279.30" r="1.15" fill="#fff" stroke="#1a1a1a" stroke-width="0.55"/>
<circle cx="399.13" cy="296.20" r="1.15" fill="#fff" stroke="#1a1a1a" stroke-width="0.55"/>
<circle cx="407.40" cy="285.80" r="1.15" fill="#fff" stroke="#1a1a1a" stroke-width="0.55"/>
<circle cx="410.20" cy="294.00" r="1.15" fill="#fff" stroke="#1a1a1a" stroke-width="0.55"/>
<circle cx="408.80" cy="294.10" r="1.15" fill="#fff" stroke="#1a1a1a" stroke-width="0.55"/>
<circle cx="418.46" cy="291.50" r="1.15" fill="#fff" stroke="#1a1a1a" stroke-width="0.55"/>
<circle cx="418.46" cy="299.70" r="1.15" fill="#fff" stroke="#1a1a1a" stroke-width="0.55"/>
<circle cx="428.13" cy="285.40" r="1.15" fill="#fff" stroke="#1a1a1a" stroke-width="0.55"/>
<circle cx="428.13" cy="296.50" r="1.15" fill="#fff" stroke="#1a1a1a" stroke-width="0.55"/>
<circle cx="437.79" cy="293.00" r="1.15" fill="#fff" stroke="#1a1a1a" stroke-width="0.55"/>
<circle cx="437.79" cy="298.00" r="1.15" fill="#fff" stroke="#1a1a1a" stroke-width="0.55"/>
<circle cx="447.46" cy="294.00" r="1.15" fill="#fff" stroke="#1a1a1a" stroke-width="0.55"/>
<circle cx="447.46" cy="297.50" r="1.15" fill="#fff" stroke="#1a1a1a" stroke-width="0.55"/>
<circle cx="457.12" cy="294.50" r="1.15" fill="#fff" stroke="#1a1a1a" stroke-width="0.55"/>
<circle cx="457.12" cy="298.50" r="1.15" fill="#fff" stroke="#1a1a1a" stroke-width="0.55"/>
<circle cx="466.79" cy="295.00" r="1.15" fill="#fff" stroke="#1a1a1a" stroke-width="0.55"/>
<circle cx="466.79" cy="301.00" r="1.15" fill="#fff" stroke="#1a1a1a" stroke-width="0.55"/>
<circle cx="476.45" cy="296.00" r="1.15" fill="#fff" stroke="#1a1a1a" stroke-width="0.55"/>
<circle cx="476.45" cy="299.00" r="1.15" fill="#fff" stroke="#1a1a1a" stroke-width="0.55"/>
<circle cx="486.12" cy="295.00" r="1.15" fill="#fff" stroke="#1a1a1a" stroke-width="0.55"/>
<circle cx="486.12" cy="302.30" r="1.15" fill="#fff" stroke="#1a1a1a" stroke-width="0.55"/>
<circle cx="495.78" cy="300.50" r="1.15" fill="#fff" stroke="#1a1a1a" stroke-width="0.55"/>
<circle cx="495.78" cy="303.00" r="1.15" fill="#fff" stroke="#1a1a1a" stroke-width="0.55"/>
<circle cx="505.45" cy="300.50" r="1.15" fill="#fff" stroke="#1a1a1a" stroke-width="0.55"/>
<circle cx="515.12" cy="301.00" r="1.15" fill="#fff" stroke="#1a1a1a" stroke-width="0.55"/>
</svg>
</body>
</html>
